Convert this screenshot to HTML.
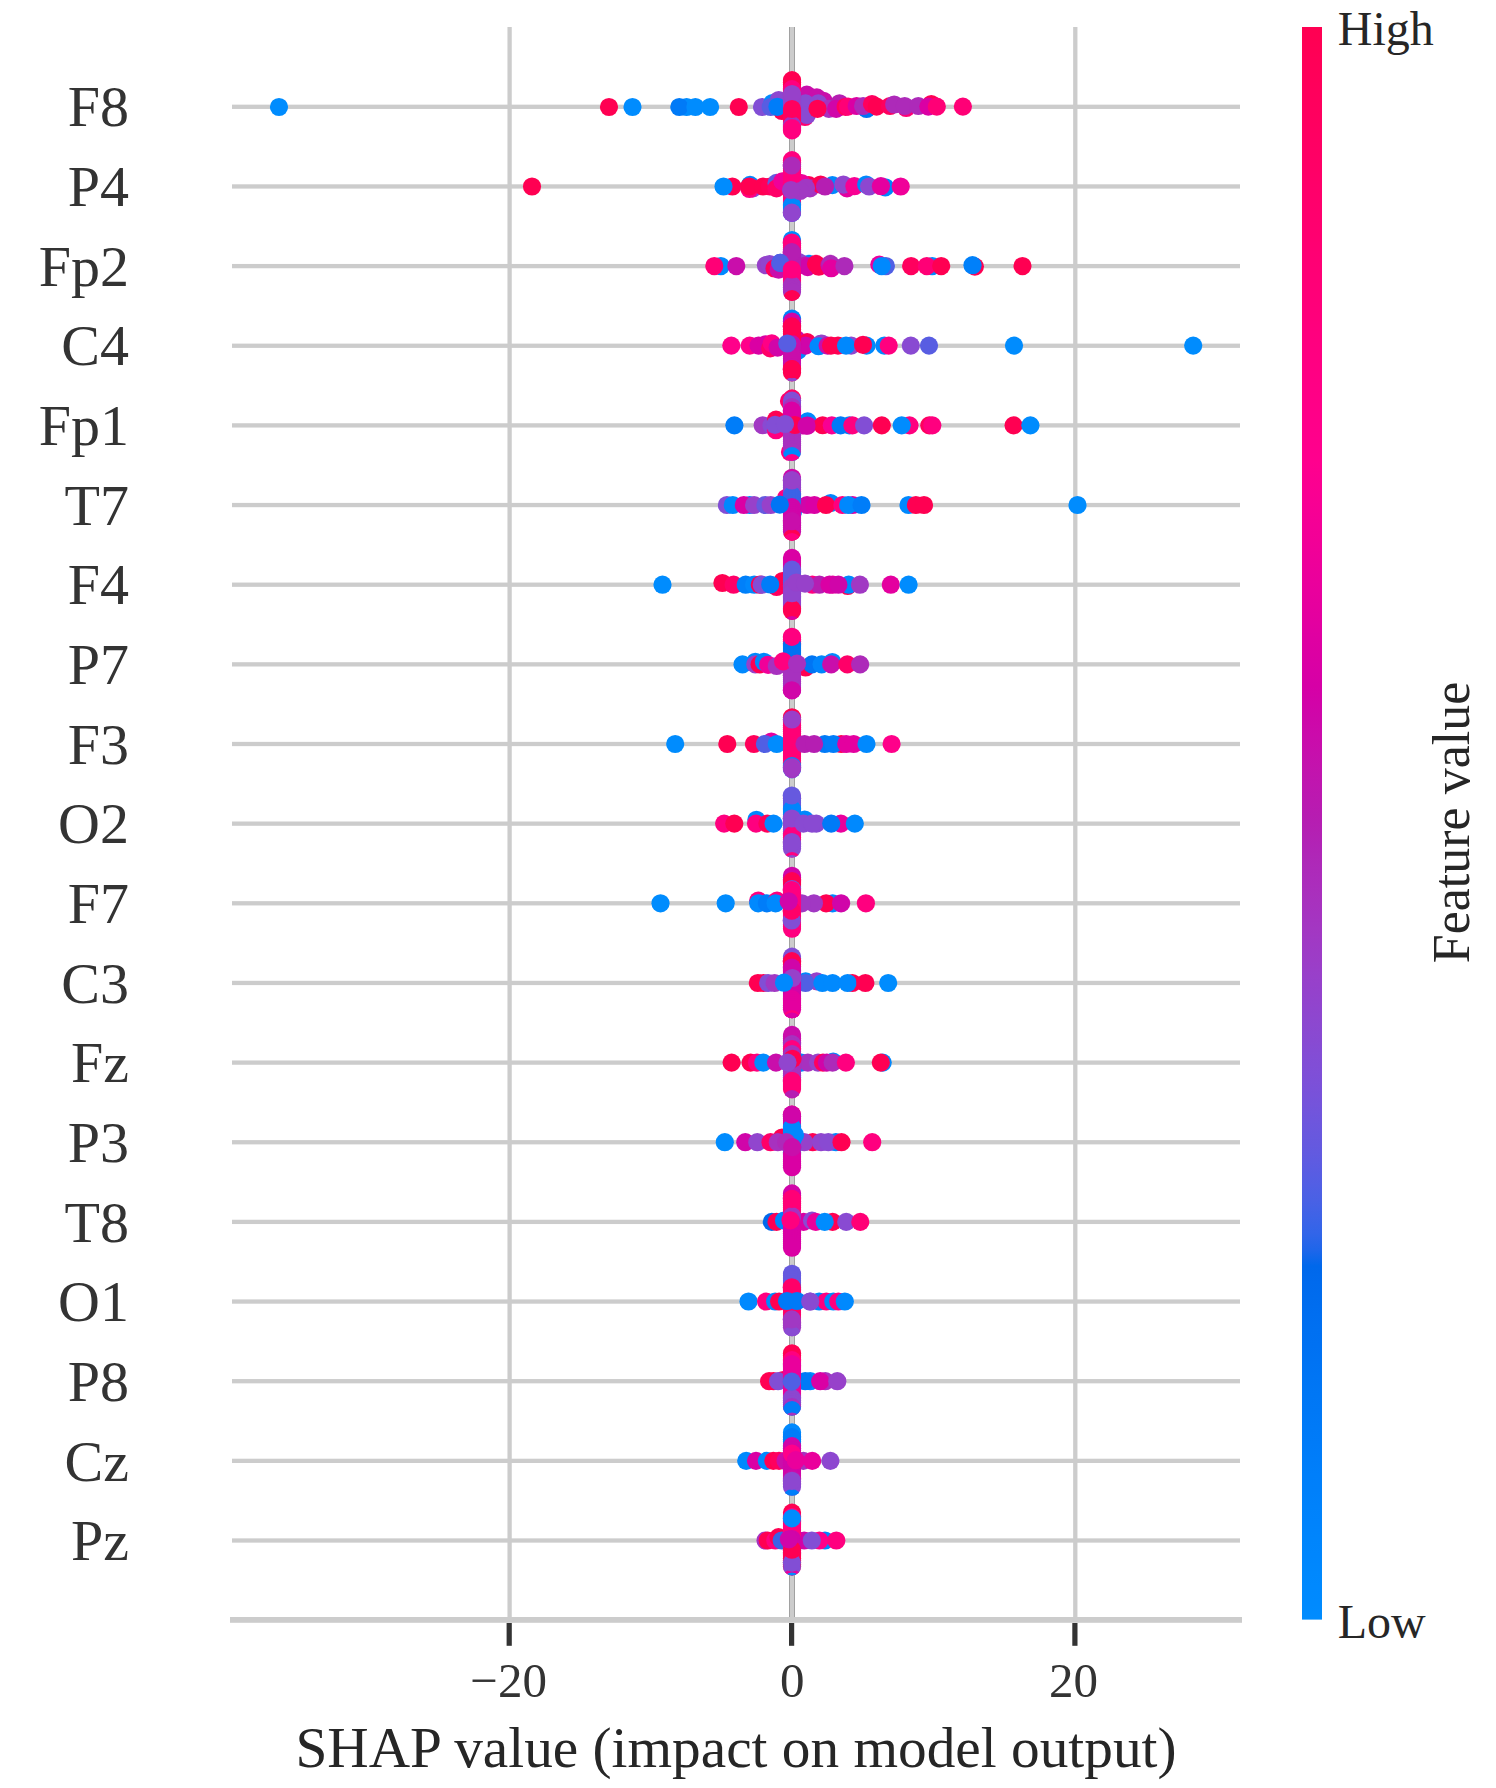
<!DOCTYPE html><html><head><meta charset="utf-8"><style>
html,body{margin:0;padding:0;background:#fff;}
svg{display:block;}
text{font-family:"Liberation Serif","Times New Roman",serif;}
.yl{font-size:58px;fill:#333333;}
.xt{font-size:49px;fill:#333333;}
.xl{font-size:57.3px;fill:#262626;}
.cbt{font-size:48px;fill:#262626;}
.cbl{font-size:52px;fill:#262626;}
</style></head><body><svg width="1496" height="1788" viewBox="0 0 1496 1788">
<defs><linearGradient id="cb" x1="0" y1="0" x2="0" y2="1"><stop offset="0.000" stop-color="#ff0052"/><stop offset="0.010" stop-color="#ff0054"/><stop offset="0.020" stop-color="#ff0057"/><stop offset="0.030" stop-color="#ff0059"/><stop offset="0.040" stop-color="#ff005c"/><stop offset="0.051" stop-color="#ff005e"/><stop offset="0.061" stop-color="#ff0060"/><stop offset="0.071" stop-color="#ff0063"/><stop offset="0.081" stop-color="#ff0065"/><stop offset="0.091" stop-color="#ff0067"/><stop offset="0.101" stop-color="#ff006a"/><stop offset="0.111" stop-color="#ff006c"/><stop offset="0.121" stop-color="#ff006e"/><stop offset="0.131" stop-color="#ff0070"/><stop offset="0.141" stop-color="#ff0073"/><stop offset="0.152" stop-color="#ff0075"/><stop offset="0.162" stop-color="#ff0077"/><stop offset="0.172" stop-color="#ff0079"/><stop offset="0.182" stop-color="#ff007b"/><stop offset="0.192" stop-color="#ff007e"/><stop offset="0.202" stop-color="#ff0080"/><stop offset="0.212" stop-color="#ff0082"/><stop offset="0.222" stop-color="#ff0084"/><stop offset="0.232" stop-color="#ff0086"/><stop offset="0.242" stop-color="#ff0088"/><stop offset="0.253" stop-color="#ff008a"/><stop offset="0.263" stop-color="#ff008c"/><stop offset="0.273" stop-color="#ff008e"/><stop offset="0.283" stop-color="#fc0090"/><stop offset="0.293" stop-color="#fa0092"/><stop offset="0.303" stop-color="#f70094"/><stop offset="0.313" stop-color="#f40096"/><stop offset="0.323" stop-color="#f20097"/><stop offset="0.333" stop-color="#ef0099"/><stop offset="0.343" stop-color="#ec009b"/><stop offset="0.354" stop-color="#e9009d"/><stop offset="0.364" stop-color="#e6009e"/><stop offset="0.374" stop-color="#e300a0"/><stop offset="0.384" stop-color="#df00a2"/><stop offset="0.394" stop-color="#dc00a3"/><stop offset="0.404" stop-color="#d900a5"/><stop offset="0.414" stop-color="#d600a6"/><stop offset="0.424" stop-color="#d203a8"/><stop offset="0.434" stop-color="#ce07a9"/><stop offset="0.444" stop-color="#cb0bab"/><stop offset="0.455" stop-color="#c70fac"/><stop offset="0.465" stop-color="#c313ad"/><stop offset="0.475" stop-color="#bf16af"/><stop offset="0.485" stop-color="#bb19b0"/><stop offset="0.495" stop-color="#b71cb1"/><stop offset="0.505" stop-color="#b420b3"/><stop offset="0.515" stop-color="#b124b6"/><stop offset="0.525" stop-color="#ae29b8"/><stop offset="0.535" stop-color="#ac2cbb"/><stop offset="0.545" stop-color="#a930bd"/><stop offset="0.556" stop-color="#a633c0"/><stop offset="0.566" stop-color="#a337c2"/><stop offset="0.576" stop-color="#9f3ac5"/><stop offset="0.586" stop-color="#9c3dc7"/><stop offset="0.596" stop-color="#9840ca"/><stop offset="0.606" stop-color="#9442cc"/><stop offset="0.616" stop-color="#9045ce"/><stop offset="0.626" stop-color="#8c48d0"/><stop offset="0.636" stop-color="#884ad2"/><stop offset="0.646" stop-color="#834dd5"/><stop offset="0.657" stop-color="#7f4fd7"/><stop offset="0.667" stop-color="#7a51d9"/><stop offset="0.677" stop-color="#7454db"/><stop offset="0.687" stop-color="#6e56dd"/><stop offset="0.697" stop-color="#6858de"/><stop offset="0.707" stop-color="#625ae0"/><stop offset="0.717" stop-color="#5a5ce2"/><stop offset="0.727" stop-color="#525fe4"/><stop offset="0.737" stop-color="#4961e5"/><stop offset="0.747" stop-color="#3e63e7"/><stop offset="0.758" stop-color="#3165e9"/><stop offset="0.768" stop-color="#1e66ea"/><stop offset="0.778" stop-color="#0068eb"/><stop offset="0.788" stop-color="#006aed"/><stop offset="0.798" stop-color="#006cee"/><stop offset="0.808" stop-color="#006ef0"/><stop offset="0.818" stop-color="#0070f1"/><stop offset="0.828" stop-color="#0071f2"/><stop offset="0.838" stop-color="#0073f3"/><stop offset="0.848" stop-color="#0075f4"/><stop offset="0.859" stop-color="#0077f5"/><stop offset="0.869" stop-color="#0078f6"/><stop offset="0.879" stop-color="#007af7"/><stop offset="0.889" stop-color="#007bf8"/><stop offset="0.899" stop-color="#007df9"/><stop offset="0.909" stop-color="#007ffa"/><stop offset="0.919" stop-color="#0080fa"/><stop offset="0.929" stop-color="#0082fb"/><stop offset="0.939" stop-color="#0083fc"/><stop offset="0.949" stop-color="#0085fc"/><stop offset="0.960" stop-color="#0086fd"/><stop offset="0.970" stop-color="#0088fd"/><stop offset="0.980" stop-color="#0089fe"/><stop offset="0.990" stop-color="#008afe"/><stop offset="1.000" stop-color="#008cfe"/></linearGradient></defs>
<defs><clipPath id="c0"><rect x="782.9" y="71" width="18.2" height="68.5" rx="9.1" ry="9.1"/></clipPath><clipPath id="c1"><rect x="782.9" y="151.1" width="18.2" height="70.8" rx="9.1" ry="9.1"/></clipPath><clipPath id="c2"><rect x="782.9" y="230.9" width="18.2" height="70.0" rx="9.1" ry="9.1"/></clipPath><clipPath id="c3"><rect x="782.9" y="309.5" width="18.2" height="72.0" rx="9.1" ry="9.1"/></clipPath><clipPath id="c4"><rect x="782.9" y="389.3" width="18.2" height="71.6" rx="9.1" ry="9.1"/></clipPath><clipPath id="c5"><rect x="782.9" y="468.7" width="18.2" height="72.0" rx="9.1" ry="9.1"/></clipPath><clipPath id="c6"><rect x="782.9" y="548.8" width="18.2" height="71.1" rx="9.1" ry="9.1"/></clipPath><clipPath id="c7"><rect x="782.9" y="628.3" width="18.2" height="70.6" rx="9.1" ry="9.1"/></clipPath><clipPath id="c8"><rect x="782.9" y="708.2" width="18.2" height="70.4" rx="9.1" ry="9.1"/></clipPath><clipPath id="c9"><rect x="782.9" y="787.8" width="18.2" height="69.8" rx="9.1" ry="9.1"/></clipPath><clipPath id="c10"><rect x="782.9" y="866.7" width="18.2" height="71.1" rx="9.1" ry="9.1"/></clipPath><clipPath id="c11"><rect x="782.9" y="947.6" width="18.2" height="70.7" rx="9.1" ry="9.1"/></clipPath><clipPath id="c12"><rect x="782.9" y="1025.8" width="18.2" height="72.4" rx="9.1" ry="9.1"/></clipPath><clipPath id="c13"><rect x="782.9" y="1105.6" width="18.2" height="70.7" rx="9.1" ry="9.1"/></clipPath><clipPath id="c14"><rect x="782.9" y="1184.3" width="18.2" height="72.5" rx="9.1" ry="9.1"/></clipPath><clipPath id="c15"><rect x="782.9" y="1264.7" width="18.2" height="71.6" rx="9.1" ry="9.1"/></clipPath><clipPath id="c16"><rect x="782.9" y="1344.2" width="18.2" height="71.4" rx="9.1" ry="9.1"/></clipPath><clipPath id="c17"><rect x="782.9" y="1423.3" width="18.2" height="72.5" rx="9.1" ry="9.1"/></clipPath><clipPath id="c18"><rect x="782.9" y="1503.6" width="18.2" height="71.8" rx="9.1" ry="9.1"/></clipPath></defs>
<rect x="789" y="27" width="6" height="1593" fill="#999999"/>
<rect x="507.45" y="27" width="4.3" height="1593" fill="#cccccc"/>
<rect x="789.85" y="27" width="4.3" height="1593" fill="#cccccc"/>
<rect x="1073.15" y="27" width="4.3" height="1593" fill="#cccccc"/>
<rect x="232" y="104.65" width="1008" height="4.3" fill="#cccccc"/>
<rect x="232" y="184.30" width="1008" height="4.3" fill="#cccccc"/>
<rect x="232" y="263.95" width="1008" height="4.3" fill="#cccccc"/>
<rect x="232" y="343.60" width="1008" height="4.3" fill="#cccccc"/>
<rect x="232" y="423.25" width="1008" height="4.3" fill="#cccccc"/>
<rect x="232" y="502.90" width="1008" height="4.3" fill="#cccccc"/>
<rect x="232" y="582.55" width="1008" height="4.3" fill="#cccccc"/>
<rect x="232" y="662.20" width="1008" height="4.3" fill="#cccccc"/>
<rect x="232" y="741.85" width="1008" height="4.3" fill="#cccccc"/>
<rect x="232" y="821.50" width="1008" height="4.3" fill="#cccccc"/>
<rect x="232" y="901.15" width="1008" height="4.3" fill="#cccccc"/>
<rect x="232" y="980.80" width="1008" height="4.3" fill="#cccccc"/>
<rect x="232" y="1060.45" width="1008" height="4.3" fill="#cccccc"/>
<rect x="232" y="1140.10" width="1008" height="4.3" fill="#cccccc"/>
<rect x="232" y="1219.75" width="1008" height="4.3" fill="#cccccc"/>
<rect x="232" y="1299.40" width="1008" height="4.3" fill="#cccccc"/>
<rect x="232" y="1379.05" width="1008" height="4.3" fill="#cccccc"/>
<rect x="232" y="1458.70" width="1008" height="4.3" fill="#cccccc"/>
<rect x="232" y="1538.35" width="1008" height="4.3" fill="#cccccc"/>
<rect x="230" y="1617" width="1012" height="5.8" fill="#cccccc"/>
<rect x="506.60" y="1623" width="5.2" height="22.8" fill="#333333"/>
<rect x="789.00" y="1623" width="5.2" height="22.8" fill="#333333"/>
<rect x="1072.30" y="1623" width="5.2" height="22.8" fill="#333333"/>
<circle cx="279" cy="107" r="9.1" fill="#008cfe"/>
<circle cx="609" cy="107" r="9.1" fill="#ff0052"/>
<circle cx="632.5" cy="107" r="9.1" fill="#008cfe"/>
<circle cx="686.6" cy="107" r="9.1" fill="#008cfe"/>
<circle cx="679.3" cy="107" r="9.1" fill="#007af7"/>
<circle cx="695.4" cy="107" r="9.1" fill="#008cfe"/>
<circle cx="710.1" cy="107" r="9.1" fill="#008cfe"/>
<circle cx="738.8" cy="107" r="9.1" fill="#ff0052"/>
<circle cx="762" cy="107" r="9.1" fill="#824ed5"/>
<circle cx="772.4" cy="103" r="9.1" fill="#008cfe"/>
<circle cx="778.7" cy="100" r="9.1" fill="#8d47d0"/>
<circle cx="770.7" cy="107" r="9.1" fill="#585de2"/>
<circle cx="782" cy="111" r="9.1" fill="#ff0052"/>
<circle cx="777.4" cy="106.8" r="9.1" fill="#007df9"/>
<circle cx="806.8" cy="94.7" r="9.1" fill="#c90eab"/>
<circle cx="816.8" cy="97.4" r="9.1" fill="#c90eab"/>
<circle cx="823.5" cy="100.8" r="9.1" fill="#c90eab"/>
<circle cx="805.5" cy="103.4" r="9.1" fill="#894ad2"/>
<circle cx="818.2" cy="103.4" r="9.1" fill="#8d47d0"/>
<circle cx="805" cy="117" r="9.1" fill="#ff006f"/>
<circle cx="807" cy="115" r="9.1" fill="#894ad2"/>
<circle cx="828.9" cy="108.8" r="9.1" fill="#a731bf"/>
<circle cx="839.5" cy="103.3" r="9.1" fill="#b51eb2"/>
<circle cx="836.2" cy="108.8" r="9.1" fill="#d005a9"/>
<circle cx="817.5" cy="108.8" r="9.1" fill="#ff0052"/>
<circle cx="845.6" cy="106.8" r="9.1" fill="#ff005e"/>
<circle cx="848" cy="106.6" r="9.1" fill="#ff0076"/>
<circle cx="856.6" cy="106" r="9.1" fill="#da00a4"/>
<circle cx="866.6" cy="109" r="9.1" fill="#0075f4"/>
<circle cx="863.1" cy="106" r="9.1" fill="#ad2ab9"/>
<circle cx="872" cy="104" r="9.1" fill="#ff005e"/>
<circle cx="876.6" cy="106.6" r="9.1" fill="#ff0052"/>
<circle cx="890" cy="106" r="9.1" fill="#ff005e"/>
<circle cx="894.2" cy="104.5" r="9.1" fill="#ad2ab9"/>
<circle cx="906.2" cy="108" r="9.1" fill="#ff0076"/>
<circle cx="904.7" cy="106" r="9.1" fill="#ad2ab9"/>
<circle cx="918.3" cy="106" r="9.1" fill="#ad2ab9"/>
<circle cx="931.3" cy="104" r="9.1" fill="#ff0052"/>
<circle cx="928.3" cy="106.6" r="9.1" fill="#da00a4"/>
<circle cx="936.8" cy="106.6" r="9.1" fill="#ff0076"/>
<circle cx="962.9" cy="106.6" r="9.1" fill="#ff0076"/>
<circle cx="792.0" cy="80.1" r="9.1" fill="#ff0052"/>
<circle cx="792.0" cy="82.3" r="9.1" fill="#ff0052"/>
<circle cx="792.0" cy="84.6" r="9.1" fill="#ff0052"/>
<circle cx="792.0" cy="86.8" r="9.1" fill="#ff0052"/>
<circle cx="792.0" cy="89.1" r="9.1" fill="#ff0052"/>
<circle cx="792.0" cy="89.1" r="9.1" fill="#ff007f"/>
<circle cx="792.0" cy="91.1" r="9.1" fill="#ff007f"/>
<circle cx="792.0" cy="93.1" r="9.1" fill="#ff007f"/>
<circle cx="792.0" cy="95.1" r="9.1" fill="#ff007f"/>
<circle cx="792.0" cy="95.1" r="9.1" fill="#9741ca"/>
<circle cx="792.0" cy="97.1" r="9.1" fill="#9741ca"/>
<circle cx="792.0" cy="99.1" r="9.1" fill="#9741ca"/>
<circle cx="792.0" cy="101.1" r="9.1" fill="#9741ca"/>
<circle cx="792.0" cy="103.1" r="9.1" fill="#9741ca"/>
<circle cx="792.0" cy="105.1" r="9.1" fill="#9741ca"/>
<circle cx="792.0" cy="107.1" r="9.1" fill="#9741ca"/>
<circle cx="792.0" cy="109.1" r="9.1" fill="#9741ca"/>
<circle cx="792.0" cy="111.1" r="9.1" fill="#9741ca"/>
<circle cx="792.0" cy="111.1" r="9.1" fill="#ff005e"/>
<circle cx="792.0" cy="113.1" r="9.1" fill="#ff005e"/>
<circle cx="792.0" cy="115.1" r="9.1" fill="#ff005e"/>
<circle cx="792.0" cy="117.1" r="9.1" fill="#ff005e"/>
<circle cx="792.0" cy="119.1" r="9.1" fill="#ff005e"/>
<circle cx="792.0" cy="121.1" r="9.1" fill="#ff005e"/>
<circle cx="792.0" cy="123.1" r="9.1" fill="#ff005e"/>
<circle cx="792.0" cy="125.1" r="9.1" fill="#ff005e"/>
<circle cx="792.0" cy="125.1" r="9.1" fill="#a731bf"/>
<circle cx="792.0" cy="126.6" r="9.1" fill="#a731bf"/>
<circle cx="792.0" cy="128.1" r="9.1" fill="#a731bf"/>
<circle cx="792.0" cy="128.1" r="9.1" fill="#ff007f"/>
<circle cx="792.0" cy="130.4" r="9.1" fill="#ff007f"/>
<circle cx="792" cy="94" r="9.1" fill="#9741ca"/>
<circle cx="792" cy="109" r="9.1" fill="#ff005e"/>
<circle cx="792" cy="129.5" r="9.1" fill="#ff007f"/>
<circle cx="532" cy="186.4775" r="9.1" fill="#ff0052"/>
<circle cx="732.4" cy="186.4775" r="9.1" fill="#ff0052"/>
<circle cx="723.5" cy="186.4775" r="9.1" fill="#008cfe"/>
<circle cx="750" cy="184.8275" r="9.1" fill="#0085fc"/>
<circle cx="753" cy="188.4025" r="9.1" fill="#8d47d0"/>
<circle cx="749.5" cy="188.9525" r="9.1" fill="#ff007f"/>
<circle cx="749.3" cy="186.4775" r="9.1" fill="#ff0052"/>
<circle cx="763" cy="186.4775" r="9.1" fill="#ff0052"/>
<circle cx="770" cy="186.4775" r="9.1" fill="#ff0059"/>
<circle cx="776.5" cy="182.9025" r="9.1" fill="#6659df"/>
<circle cx="776.5" cy="188.4025" r="9.1" fill="#ff0068"/>
<circle cx="782.4" cy="181.3" r="9.1" fill="#f00099"/>
<circle cx="795.6" cy="181" r="9.1" fill="#0085fc"/>
<circle cx="808.8" cy="185.1025" r="9.1" fill="#ff0052"/>
<circle cx="801.5" cy="183" r="9.1" fill="#f00099"/>
<circle cx="810" cy="188.4025" r="9.1" fill="#a731bf"/>
<circle cx="820.6" cy="184.55249999999998" r="9.1" fill="#ff0052"/>
<circle cx="832.4" cy="185.1025" r="9.1" fill="#0088fd"/>
<circle cx="825" cy="186.4775" r="9.1" fill="#b51eb2"/>
<circle cx="847" cy="188.4025" r="9.1" fill="#e4009f"/>
<circle cx="843.4" cy="184.55249999999998" r="9.1" fill="#9145ce"/>
<circle cx="854.4" cy="186.2025" r="9.1" fill="#f80093"/>
<circle cx="866.2" cy="184.55249999999998" r="9.1" fill="#0088fd"/>
<circle cx="869.1" cy="186.4775" r="9.1" fill="#8d47d0"/>
<circle cx="885.3" cy="187.3025" r="9.1" fill="#0085fc"/>
<circle cx="880.9" cy="186.2025" r="9.1" fill="#e4009f"/>
<circle cx="900.7" cy="186.4775" r="9.1" fill="#f00099"/>
<circle cx="792.0" cy="160.2" r="9.1" fill="#ff007f"/>
<circle cx="792.0" cy="162.2" r="9.1" fill="#ff007f"/>
<circle cx="792.0" cy="164.3" r="9.1" fill="#ff007f"/>
<circle cx="792.0" cy="166.3" r="9.1" fill="#ff007f"/>
<circle cx="792.0" cy="168.4" r="9.1" fill="#ff007f"/>
<circle cx="792.0" cy="170.4" r="9.1" fill="#ff007f"/>
<circle cx="792.0" cy="172.4" r="9.1" fill="#ff007f"/>
<circle cx="792.0" cy="174.5" r="9.1" fill="#ff007f"/>
<circle cx="792.0" cy="176.5" r="9.1" fill="#ff007f"/>
<circle cx="792.0" cy="178.6" r="9.1" fill="#ff007f"/>
<circle cx="792.0" cy="180.6" r="9.1" fill="#ff007f"/>
<circle cx="792.0" cy="182.6" r="9.1" fill="#ff007f"/>
<circle cx="792.0" cy="184.7" r="9.1" fill="#ff007f"/>
<circle cx="792.0" cy="186.7" r="9.1" fill="#ff007f"/>
<circle cx="792.0" cy="188.8" r="9.1" fill="#ff007f"/>
<circle cx="792.0" cy="190.8" r="9.1" fill="#ff007f"/>
<circle cx="792.0" cy="192.9" r="9.1" fill="#ff007f"/>
<circle cx="792.0" cy="194.9" r="9.1" fill="#ff007f"/>
<circle cx="792.0" cy="196.9" r="9.1" fill="#ff007f"/>
<circle cx="792.0" cy="199.0" r="9.1" fill="#ff007f"/>
<circle cx="792.0" cy="201.0" r="9.1" fill="#ff007f"/>
<circle cx="792.0" cy="203.1" r="9.1" fill="#ff007f"/>
<circle cx="792.0" cy="205.1" r="9.1" fill="#ff007f"/>
<circle cx="792.0" cy="205.1" r="9.1" fill="#0088fd"/>
<circle cx="792.0" cy="207.0" r="9.1" fill="#0088fd"/>
<circle cx="792.0" cy="208.9" r="9.1" fill="#0088fd"/>
<circle cx="792.0" cy="210.9" r="9.1" fill="#0088fd"/>
<circle cx="792.0" cy="212.8" r="9.1" fill="#0088fd"/>
<circle cx="792.0" cy="215.1" r="9.1" fill="#9145ce" clip-path="url(#c1)"/>
<circle cx="791.8" cy="165.5" r="9.1" fill="#ad2ab9"/>
<circle cx="791.8" cy="212.6" r="9.1" fill="#9145ce"/>
<circle cx="806" cy="187.8525" r="9.1" fill="#a138c3"/>
<circle cx="800" cy="191" r="9.1" fill="#a138c3"/>
<circle cx="791" cy="190" r="9.1" fill="#a138c3"/>
<circle cx="720.9" cy="266.045" r="9.1" fill="#0089fe"/>
<circle cx="714.3" cy="266.045" r="9.1" fill="#ff0076"/>
<circle cx="736.3" cy="266.045" r="9.1" fill="#c90eab"/>
<circle cx="765.9" cy="265.22" r="9.1" fill="#9741ca"/>
<circle cx="769.6" cy="264.12" r="9.1" fill="#9145ce"/>
<circle cx="774.5" cy="268.465" r="9.1" fill="#ff005e"/>
<circle cx="778.7" cy="269.62" r="9.1" fill="#c90eab"/>
<circle cx="780.3" cy="262.855" r="9.1" fill="#505fe4"/>
<circle cx="809" cy="263.845" r="9.1" fill="#0085fc"/>
<circle cx="795.9" cy="262" r="9.1" fill="#0085fc"/>
<circle cx="798.8" cy="262" r="9.1" fill="#9145ce"/>
<circle cx="805.5" cy="265.495" r="9.1" fill="#c115ae"/>
<circle cx="807.6" cy="267.145" r="9.1" fill="#d005a9"/>
<circle cx="816" cy="263.845" r="9.1" fill="#ff0052"/>
<circle cx="818.8" cy="266.705" r="9.1" fill="#ff0052"/>
<circle cx="829.5" cy="265.22" r="9.1" fill="#c90eab"/>
<circle cx="830.4" cy="263.845" r="9.1" fill="#ad2ab9"/>
<circle cx="831.2" cy="268.245" r="9.1" fill="#e4009f"/>
<circle cx="844.4" cy="266.045" r="9.1" fill="#ad2ab9"/>
<circle cx="879.3" cy="264.56" r="9.1" fill="#ea009c"/>
<circle cx="885.9" cy="266.045" r="9.1" fill="#505fe4"/>
<circle cx="881.7" cy="266.045" r="9.1" fill="#0089fe"/>
<circle cx="911.1" cy="266.045" r="9.1" fill="#ff005e"/>
<circle cx="932.2" cy="266.045" r="9.1" fill="#0089fe"/>
<circle cx="926.8" cy="266.045" r="9.1" fill="#ff0076"/>
<circle cx="941.2" cy="266.045" r="9.1" fill="#ff0052"/>
<circle cx="974.9" cy="266.595" r="9.1" fill="#ff0052"/>
<circle cx="972.5" cy="265.22" r="9.1" fill="#0080fa"/>
<circle cx="1022.5" cy="266.045" r="9.1" fill="#ff0052"/>
<circle cx="792.0" cy="240.0" r="9.1" fill="#0089fe"/>
<circle cx="792.0" cy="241.8" r="9.1" fill="#0089fe"/>
<circle cx="792.0" cy="243.6" r="9.1" fill="#0089fe"/>
<circle cx="792.0" cy="243.6" r="9.1" fill="#ff007f"/>
<circle cx="792.0" cy="245.5" r="9.1" fill="#ff007f"/>
<circle cx="792.0" cy="247.4" r="9.1" fill="#ff007f"/>
<circle cx="792.0" cy="249.3" r="9.1" fill="#ff007f"/>
<circle cx="792.0" cy="251.2" r="9.1" fill="#ff007f"/>
<circle cx="792.0" cy="253.1" r="9.1" fill="#ff007f"/>
<circle cx="792.0" cy="253.1" r="9.1" fill="#b51eb2"/>
<circle cx="792.0" cy="255.1" r="9.1" fill="#b51eb2"/>
<circle cx="792.0" cy="257.1" r="9.1" fill="#b51eb2"/>
<circle cx="792.0" cy="259.1" r="9.1" fill="#b51eb2"/>
<circle cx="792.0" cy="261.1" r="9.1" fill="#b51eb2"/>
<circle cx="792.0" cy="263.1" r="9.1" fill="#b51eb2"/>
<circle cx="792.0" cy="265.1" r="9.1" fill="#b51eb2"/>
<circle cx="792.0" cy="267.1" r="9.1" fill="#b51eb2"/>
<circle cx="792.0" cy="269.1" r="9.1" fill="#b51eb2"/>
<circle cx="792.0" cy="271.1" r="9.1" fill="#b51eb2"/>
<circle cx="792.0" cy="271.1" r="9.1" fill="#ff007f"/>
<circle cx="792.0" cy="273.1" r="9.1" fill="#ff007f"/>
<circle cx="792.0" cy="275.1" r="9.1" fill="#ff007f"/>
<circle cx="792.0" cy="277.1" r="9.1" fill="#ff007f"/>
<circle cx="792.0" cy="279.1" r="9.1" fill="#ff007f"/>
<circle cx="792.0" cy="281.1" r="9.1" fill="#ff007f"/>
<circle cx="792.0" cy="283.1" r="9.1" fill="#ff007f"/>
<circle cx="792.0" cy="285.1" r="9.1" fill="#ff007f"/>
<circle cx="792.0" cy="285.1" r="9.1" fill="#a731bf"/>
<circle cx="792.0" cy="287.3" r="9.1" fill="#a731bf"/>
<circle cx="792.0" cy="289.6" r="9.1" fill="#a731bf"/>
<circle cx="792.0" cy="291.8" r="9.1" fill="#a731bf"/>
<circle cx="792.0" cy="299.1" r="9.1" fill="#ff0052" clip-path="url(#c2)"/>
<circle cx="791.8" cy="242.5" r="9.1" fill="#ff007f"/>
<circle cx="791.8" cy="252.2" r="9.1" fill="#b51eb2"/>
<circle cx="780.3" cy="262.855" r="9.1" fill="#505fe4"/>
<circle cx="791.8" cy="269.5" r="9.1" fill="#ff007f"/>
<circle cx="731.3" cy="345.6125" r="9.1" fill="#ff008a"/>
<circle cx="749.7" cy="345.6125" r="9.1" fill="#ff008a"/>
<circle cx="758.5" cy="345.6125" r="9.1" fill="#da00a4"/>
<circle cx="765.9" cy="344.2375" r="9.1" fill="#da00a4"/>
<circle cx="770.2" cy="348.3625" r="9.1" fill="#ff0068"/>
<circle cx="771.8" cy="343.35749999999996" r="9.1" fill="#ff0086"/>
<circle cx="777.6" cy="347.5375" r="9.1" fill="#d005a9"/>
<circle cx="796.4" cy="339.2" r="9.1" fill="#c90eab"/>
<circle cx="798.2" cy="350.6" r="9.1" fill="#0088fd"/>
<circle cx="807.1" cy="342.1475" r="9.1" fill="#ff0052"/>
<circle cx="805.5" cy="345.6675" r="9.1" fill="#d005a9"/>
<circle cx="821.8" cy="343.5775" r="9.1" fill="#9145ce"/>
<circle cx="820.4" cy="343.90749999999997" r="9.1" fill="#9741ca"/>
<circle cx="818.6" cy="346.2725" r="9.1" fill="#0089fe"/>
<circle cx="827.6" cy="345.6125" r="9.1" fill="#c90eab"/>
<circle cx="831" cy="345.6125" r="9.1" fill="#ff0052"/>
<circle cx="838" cy="345.6125" r="9.1" fill="#ff0052"/>
<circle cx="851.2" cy="345.6125" r="9.1" fill="#8d47d0"/>
<circle cx="846" cy="345.6125" r="9.1" fill="#0088fd"/>
<circle cx="866.6" cy="345.6125" r="9.1" fill="#0089fe"/>
<circle cx="863" cy="344.7875" r="9.1" fill="#ff0052"/>
<circle cx="884.3" cy="345.6125" r="9.1" fill="#0089fe"/>
<circle cx="888.7" cy="345.6125" r="9.1" fill="#ff007f"/>
<circle cx="910.8" cy="345.6125" r="9.1" fill="#894ad2"/>
<circle cx="929" cy="345.6125" r="9.1" fill="#585de2"/>
<circle cx="1014" cy="345.6125" r="9.1" fill="#008cfe"/>
<circle cx="1193.2" cy="345.6125" r="9.1" fill="#008cfe"/>
<circle cx="792.0" cy="318.6" r="9.1" fill="#0080fa"/>
<circle cx="792.0" cy="320.1" r="9.1" fill="#0080fa"/>
<circle cx="792.0" cy="321.6" r="9.1" fill="#0080fa"/>
<circle cx="792.0" cy="321.6" r="9.1" fill="#d005a9"/>
<circle cx="792.0" cy="323.4" r="9.1" fill="#d005a9"/>
<circle cx="792.0" cy="325.3" r="9.1" fill="#d005a9"/>
<circle cx="792.0" cy="327.1" r="9.1" fill="#d005a9"/>
<circle cx="792.0" cy="327.1" r="9.1" fill="#ff0052"/>
<circle cx="792.0" cy="329.2" r="9.1" fill="#ff0052"/>
<circle cx="792.0" cy="331.4" r="9.1" fill="#ff0052"/>
<circle cx="792.0" cy="333.5" r="9.1" fill="#ff0052"/>
<circle cx="792.0" cy="335.6" r="9.1" fill="#ff0052"/>
<circle cx="792.0" cy="337.7" r="9.1" fill="#ff0052"/>
<circle cx="792.0" cy="339.9" r="9.1" fill="#ff0052"/>
<circle cx="792.0" cy="342.0" r="9.1" fill="#ff0052"/>
<circle cx="792.0" cy="344.1" r="9.1" fill="#ff0052"/>
<circle cx="792.0" cy="344.1" r="9.1" fill="#c90eab"/>
<circle cx="792.0" cy="346.2" r="9.1" fill="#c90eab"/>
<circle cx="792.0" cy="348.3" r="9.1" fill="#c90eab"/>
<circle cx="792.0" cy="350.4" r="9.1" fill="#c90eab"/>
<circle cx="792.0" cy="352.4" r="9.1" fill="#c90eab"/>
<circle cx="792.0" cy="354.5" r="9.1" fill="#c90eab"/>
<circle cx="792.0" cy="356.6" r="9.1" fill="#c90eab"/>
<circle cx="792.0" cy="358.7" r="9.1" fill="#c90eab"/>
<circle cx="792.0" cy="360.8" r="9.1" fill="#c90eab"/>
<circle cx="792.0" cy="362.9" r="9.1" fill="#c90eab"/>
<circle cx="792.0" cy="364.9" r="9.1" fill="#c90eab"/>
<circle cx="792.0" cy="367.0" r="9.1" fill="#c90eab"/>
<circle cx="792.0" cy="369.1" r="9.1" fill="#c90eab"/>
<circle cx="792.0" cy="369.1" r="9.1" fill="#ff0052"/>
<circle cx="792.0" cy="370.8" r="9.1" fill="#ff0052"/>
<circle cx="792.0" cy="372.4" r="9.1" fill="#ff0052"/>
<circle cx="792.0" cy="386.6" r="9.1" fill="#9145ce" clip-path="url(#c3)"/>
<circle cx="791.8" cy="326.4" r="9.1" fill="#ff0052"/>
<circle cx="791.8" cy="369.2" r="9.1" fill="#ff0052"/>
<circle cx="787.3" cy="343.5" r="9.1" fill="#585de2"/>
<circle cx="734.4" cy="425.345" r="9.1" fill="#007df9"/>
<circle cx="762.7" cy="425.235" r="9.1" fill="#a138c3"/>
<circle cx="771.5" cy="425.345" r="9.1" fill="#894ad2"/>
<circle cx="776" cy="419.68" r="9.1" fill="#ff0052"/>
<circle cx="776" cy="430.24" r="9.1" fill="#ff007f"/>
<circle cx="790" cy="452" r="9.1" fill="#ff007f"/>
<circle cx="789" cy="401" r="9.1" fill="#ff006f"/>
<circle cx="802.4" cy="425.345" r="9.1" fill="#d005a9"/>
<circle cx="807.6" cy="421.44" r="9.1" fill="#0088fd"/>
<circle cx="807.6" cy="425.51000000000005" r="9.1" fill="#da00a4"/>
<circle cx="822.6" cy="425.235" r="9.1" fill="#ff0052"/>
<circle cx="831.8" cy="425.345" r="9.1" fill="#f80093"/>
<circle cx="849.4" cy="425.345" r="9.1" fill="#0085fc"/>
<circle cx="840.6" cy="425.345" r="9.1" fill="#007af7"/>
<circle cx="852.4" cy="425.345" r="9.1" fill="#ff007f"/>
<circle cx="864.1" cy="425.345" r="9.1" fill="#824ed5"/>
<circle cx="881.8" cy="425.345" r="9.1" fill="#ff0052"/>
<circle cx="909.5" cy="425.345" r="9.1" fill="#ff007f"/>
<circle cx="901.7" cy="425.345" r="9.1" fill="#008cfe"/>
<circle cx="929.3" cy="425.345" r="9.1" fill="#ff005e"/>
<circle cx="932.3" cy="425.345" r="9.1" fill="#ff007f"/>
<circle cx="1013.6" cy="425.345" r="9.1" fill="#ff0052"/>
<circle cx="1030.4" cy="425.345" r="9.1" fill="#008cfe"/>
<circle cx="792.0" cy="398.4" r="9.1" fill="#ff0068"/>
<circle cx="792.0" cy="400.6" r="9.1" fill="#ff0068"/>
<circle cx="792.0" cy="400.6" r="9.1" fill="#824ed5"/>
<circle cx="792.0" cy="402.8" r="9.1" fill="#824ed5"/>
<circle cx="792.0" cy="404.9" r="9.1" fill="#824ed5"/>
<circle cx="792.0" cy="407.1" r="9.1" fill="#824ed5"/>
<circle cx="792.0" cy="407.1" r="9.1" fill="#a731bf"/>
<circle cx="792.0" cy="409.1" r="9.1" fill="#a731bf"/>
<circle cx="792.0" cy="411.1" r="9.1" fill="#a731bf"/>
<circle cx="792.0" cy="413.1" r="9.1" fill="#a731bf"/>
<circle cx="792.0" cy="413.1" r="9.1" fill="#da00a4"/>
<circle cx="792.0" cy="415.1" r="9.1" fill="#da00a4"/>
<circle cx="792.0" cy="417.1" r="9.1" fill="#da00a4"/>
<circle cx="792.0" cy="419.1" r="9.1" fill="#da00a4"/>
<circle cx="792.0" cy="421.1" r="9.1" fill="#da00a4"/>
<circle cx="792.0" cy="423.1" r="9.1" fill="#da00a4"/>
<circle cx="792.0" cy="425.1" r="9.1" fill="#da00a4"/>
<circle cx="792.0" cy="427.1" r="9.1" fill="#da00a4"/>
<circle cx="792.0" cy="429.1" r="9.1" fill="#da00a4"/>
<circle cx="792.0" cy="429.1" r="9.1" fill="#a731bf"/>
<circle cx="792.0" cy="431.2" r="9.1" fill="#a731bf"/>
<circle cx="792.0" cy="433.2" r="9.1" fill="#a731bf"/>
<circle cx="792.0" cy="435.3" r="9.1" fill="#a731bf"/>
<circle cx="792.0" cy="437.4" r="9.1" fill="#a731bf"/>
<circle cx="792.0" cy="439.4" r="9.1" fill="#a731bf"/>
<circle cx="792.0" cy="441.5" r="9.1" fill="#a731bf"/>
<circle cx="792.0" cy="443.5" r="9.1" fill="#a731bf"/>
<circle cx="792.0" cy="445.6" r="9.1" fill="#a731bf"/>
<circle cx="792.0" cy="447.7" r="9.1" fill="#a731bf"/>
<circle cx="792.0" cy="449.7" r="9.1" fill="#a731bf"/>
<circle cx="792.0" cy="451.8" r="9.1" fill="#a731bf"/>
<circle cx="792.0" cy="456.1" r="9.1" fill="#0089fe" clip-path="url(#c4)"/>
<circle cx="792.0" cy="463.1" r="9.1" fill="#ff008a" clip-path="url(#c4)"/>
<circle cx="791.8" cy="410.7" r="9.1" fill="#da00a4"/>
<circle cx="794.8" cy="425" r="9.1" fill="#ff0052"/>
<circle cx="806.5" cy="425.73" r="9.1" fill="#d005a9"/>
<circle cx="775" cy="424.90500000000003" r="9.1" fill="#824ed5"/>
<circle cx="785" cy="424" r="9.1" fill="#824ed5"/>
<circle cx="726.9" cy="505" r="9.1" fill="#824ed5"/>
<circle cx="732.8" cy="505" r="9.1" fill="#0089fe"/>
<circle cx="749.7" cy="505" r="9.1" fill="#0088fd"/>
<circle cx="743.8" cy="505" r="9.1" fill="#da00a4"/>
<circle cx="754.1" cy="505" r="9.1" fill="#9741ca"/>
<circle cx="765.4" cy="505" r="9.1" fill="#6659df"/>
<circle cx="770.7" cy="505" r="9.1" fill="#9741ca"/>
<circle cx="786" cy="498" r="9.1" fill="#ff007f"/>
<circle cx="793" cy="512" r="9.1" fill="#0088fd"/>
<circle cx="807" cy="505" r="9.1" fill="#d005a9"/>
<circle cx="814.4" cy="505" r="9.1" fill="#da00a4"/>
<circle cx="830.6" cy="503" r="9.1" fill="#0085fc"/>
<circle cx="826" cy="505" r="9.1" fill="#ff0052"/>
<circle cx="852.6" cy="505" r="9.1" fill="#da00a4"/>
<circle cx="842.4" cy="505" r="9.1" fill="#ff007f"/>
<circle cx="848.2" cy="505" r="9.1" fill="#0088fd"/>
<circle cx="861.5" cy="505" r="9.1" fill="#007df9"/>
<circle cx="908.5" cy="505" r="9.1" fill="#0089fe"/>
<circle cx="915.9" cy="505" r="9.1" fill="#ff0052"/>
<circle cx="924" cy="505" r="9.1" fill="#ff0052"/>
<circle cx="1077.5" cy="505" r="9.1" fill="#008cfe"/>
<circle cx="792.0" cy="477.8" r="9.1" fill="#d005a9"/>
<circle cx="792.0" cy="480.1" r="9.1" fill="#d005a9"/>
<circle cx="792.0" cy="480.1" r="9.1" fill="#9741ca"/>
<circle cx="792.0" cy="482.0" r="9.1" fill="#9741ca"/>
<circle cx="792.0" cy="483.9" r="9.1" fill="#9741ca"/>
<circle cx="792.0" cy="485.7" r="9.1" fill="#9741ca"/>
<circle cx="792.0" cy="487.6" r="9.1" fill="#9741ca"/>
<circle cx="792.0" cy="489.5" r="9.1" fill="#9741ca"/>
<circle cx="792.0" cy="491.4" r="9.1" fill="#9741ca"/>
<circle cx="792.0" cy="493.2" r="9.1" fill="#9741ca"/>
<circle cx="792.0" cy="495.1" r="9.1" fill="#9741ca"/>
<circle cx="792.0" cy="495.1" r="9.1" fill="#3b63e7"/>
<circle cx="792.0" cy="497.1" r="9.1" fill="#3b63e7"/>
<circle cx="792.0" cy="499.1" r="9.1" fill="#3b63e7"/>
<circle cx="792.0" cy="501.1" r="9.1" fill="#3b63e7"/>
<circle cx="792.0" cy="503.1" r="9.1" fill="#3b63e7"/>
<circle cx="792.0" cy="505.1" r="9.1" fill="#3b63e7"/>
<circle cx="792.0" cy="507.1" r="9.1" fill="#3b63e7"/>
<circle cx="792.0" cy="507.1" r="9.1" fill="#d005a9"/>
<circle cx="792.0" cy="509.1" r="9.1" fill="#d005a9"/>
<circle cx="792.0" cy="511.1" r="9.1" fill="#d005a9"/>
<circle cx="792.0" cy="513.1" r="9.1" fill="#d005a9"/>
<circle cx="792.0" cy="515.1" r="9.1" fill="#d005a9"/>
<circle cx="792.0" cy="517.1" r="9.1" fill="#d005a9"/>
<circle cx="792.0" cy="519.1" r="9.1" fill="#d005a9"/>
<circle cx="792.0" cy="521.1" r="9.1" fill="#d005a9"/>
<circle cx="792.0" cy="523.1" r="9.1" fill="#d005a9"/>
<circle cx="792.0" cy="523.1" r="9.1" fill="#c90eab"/>
<circle cx="792.0" cy="525.2" r="9.1" fill="#c90eab"/>
<circle cx="792.0" cy="527.4" r="9.1" fill="#c90eab"/>
<circle cx="792.0" cy="529.5" r="9.1" fill="#c90eab"/>
<circle cx="792.0" cy="531.6" r="9.1" fill="#c90eab"/>
<circle cx="792.0" cy="538.1" r="9.1" fill="#ff0052" clip-path="url(#c5)"/>
<circle cx="792.0" cy="542.1" r="9.1" fill="#ff007f" clip-path="url(#c5)"/>
<circle cx="791.9" cy="480.5" r="9.1" fill="#9741ca"/>
<circle cx="791.9" cy="521.1" r="9.1" fill="#c90eab"/>
<circle cx="779.8" cy="504.6" r="9.1" fill="#0075f4"/>
<circle cx="662.5" cy="584.7" r="9.1" fill="#008cfe"/>
<circle cx="722.4" cy="583" r="9.1" fill="#ff0052"/>
<circle cx="733.6" cy="584.7" r="9.1" fill="#ff0068"/>
<circle cx="745.7" cy="584.7" r="9.1" fill="#0080fa"/>
<circle cx="754.2" cy="584.7" r="9.1" fill="#0088fd"/>
<circle cx="759.8" cy="584.7" r="9.1" fill="#ff0052"/>
<circle cx="761.7" cy="584.7" r="9.1" fill="#824ed5"/>
<circle cx="776.6" cy="587" r="9.1" fill="#ff005e"/>
<circle cx="782.5" cy="581" r="9.1" fill="#ff0052"/>
<circle cx="770.2" cy="584.5" r="9.1" fill="#007df9"/>
<circle cx="812.4" cy="584.7" r="9.1" fill="#ff007f"/>
<circle cx="819.4" cy="584.7" r="9.1" fill="#b51eb2"/>
<circle cx="832.8" cy="584.7" r="9.1" fill="#ea009c"/>
<circle cx="829.5" cy="584.7" r="9.1" fill="#da00a4"/>
<circle cx="847.7" cy="586" r="9.1" fill="#ff0052"/>
<circle cx="848.7" cy="584.7" r="9.1" fill="#0088fd"/>
<circle cx="838.4" cy="584.7" r="9.1" fill="#d005a9"/>
<circle cx="859.9" cy="584.7" r="9.1" fill="#a138c3"/>
<circle cx="890.8" cy="584.7" r="9.1" fill="#e4009f"/>
<circle cx="908.6" cy="584.7" r="9.1" fill="#008cfe"/>
<circle cx="792.0" cy="557.9" r="9.1" fill="#da00a4"/>
<circle cx="792.0" cy="559.9" r="9.1" fill="#da00a4"/>
<circle cx="792.0" cy="562.0" r="9.1" fill="#da00a4"/>
<circle cx="792.0" cy="564.0" r="9.1" fill="#da00a4"/>
<circle cx="792.0" cy="566.0" r="9.1" fill="#da00a4"/>
<circle cx="792.0" cy="568.0" r="9.1" fill="#da00a4"/>
<circle cx="792.0" cy="570.1" r="9.1" fill="#da00a4"/>
<circle cx="792.0" cy="572.1" r="9.1" fill="#da00a4"/>
<circle cx="792.0" cy="572.1" r="9.1" fill="#6659df"/>
<circle cx="792.0" cy="574.0" r="9.1" fill="#6659df"/>
<circle cx="792.0" cy="575.9" r="9.1" fill="#6659df"/>
<circle cx="792.0" cy="577.7" r="9.1" fill="#6659df"/>
<circle cx="792.0" cy="579.6" r="9.1" fill="#6659df"/>
<circle cx="792.0" cy="581.5" r="9.1" fill="#6659df"/>
<circle cx="792.0" cy="583.4" r="9.1" fill="#6659df"/>
<circle cx="792.0" cy="585.2" r="9.1" fill="#6659df"/>
<circle cx="792.0" cy="587.1" r="9.1" fill="#6659df"/>
<circle cx="792.0" cy="587.1" r="9.1" fill="#9741ca"/>
<circle cx="792.0" cy="589.1" r="9.1" fill="#9741ca"/>
<circle cx="792.0" cy="591.1" r="9.1" fill="#9741ca"/>
<circle cx="792.0" cy="593.1" r="9.1" fill="#9741ca"/>
<circle cx="792.0" cy="595.1" r="9.1" fill="#9741ca"/>
<circle cx="792.0" cy="597.1" r="9.1" fill="#9741ca"/>
<circle cx="792.0" cy="597.1" r="9.1" fill="#9145ce"/>
<circle cx="792.0" cy="599.1" r="9.1" fill="#9145ce"/>
<circle cx="792.0" cy="601.1" r="9.1" fill="#9145ce"/>
<circle cx="792.0" cy="603.1" r="9.1" fill="#9145ce"/>
<circle cx="792.0" cy="605.1" r="9.1" fill="#9145ce"/>
<circle cx="792.0" cy="607.1" r="9.1" fill="#9145ce"/>
<circle cx="792.0" cy="609.1" r="9.1" fill="#9145ce"/>
<circle cx="792.0" cy="609.1" r="9.1" fill="#ff0052"/>
<circle cx="792.0" cy="610.8" r="9.1" fill="#ff0052"/>
<circle cx="792.0" cy="625.1" r="9.1" fill="#da00a4" clip-path="url(#c6)"/>
<circle cx="792" cy="569.7" r="9.1" fill="#6659df"/>
<circle cx="792" cy="593.2" r="9.1" fill="#9145ce"/>
<circle cx="796.4" cy="582.5" r="9.1" fill="#9741ca"/>
<circle cx="805" cy="583.6" r="9.1" fill="#9741ca"/>
<circle cx="742.5" cy="664.4" r="9.1" fill="#0089fe"/>
<circle cx="755.3" cy="661.8" r="9.1" fill="#0088fd"/>
<circle cx="755.3" cy="664.4" r="9.1" fill="#9741ca"/>
<circle cx="759.6" cy="664.4" r="9.1" fill="#ff0052"/>
<circle cx="763.9" cy="661.8" r="9.1" fill="#0088fd"/>
<circle cx="768.1" cy="664.8" r="9.1" fill="#f00099"/>
<circle cx="776.7" cy="666" r="9.1" fill="#a731bf"/>
<circle cx="805.6" cy="667.5" r="9.1" fill="#ff0052"/>
<circle cx="832.3" cy="662" r="9.1" fill="#0089fe"/>
<circle cx="812" cy="664.4" r="9.1" fill="#0075f4"/>
<circle cx="821.6" cy="664.4" r="9.1" fill="#0085fc"/>
<circle cx="831.2" cy="664.4" r="9.1" fill="#c90eab"/>
<circle cx="847.3" cy="664.4" r="9.1" fill="#ff0068"/>
<circle cx="860.1" cy="664.4" r="9.1" fill="#ad2ab9"/>
<circle cx="792.0" cy="637.4" r="9.1" fill="#ff007f"/>
<circle cx="792.0" cy="639.3" r="9.1" fill="#ff007f"/>
<circle cx="792.0" cy="641.2" r="9.1" fill="#ff007f"/>
<circle cx="792.0" cy="643.2" r="9.1" fill="#ff007f"/>
<circle cx="792.0" cy="645.1" r="9.1" fill="#ff007f"/>
<circle cx="792.0" cy="645.1" r="9.1" fill="#0072f2"/>
<circle cx="792.0" cy="647.1" r="9.1" fill="#0072f2"/>
<circle cx="792.0" cy="649.1" r="9.1" fill="#0072f2"/>
<circle cx="792.0" cy="651.1" r="9.1" fill="#0072f2"/>
<circle cx="792.0" cy="653.1" r="9.1" fill="#0072f2"/>
<circle cx="792.0" cy="655.1" r="9.1" fill="#0072f2"/>
<circle cx="792.0" cy="657.1" r="9.1" fill="#0072f2"/>
<circle cx="792.0" cy="659.1" r="9.1" fill="#0072f2"/>
<circle cx="792.0" cy="661.1" r="9.1" fill="#0072f2"/>
<circle cx="792.0" cy="663.1" r="9.1" fill="#0072f2"/>
<circle cx="792.0" cy="665.1" r="9.1" fill="#0072f2"/>
<circle cx="792.0" cy="667.1" r="9.1" fill="#0072f2"/>
<circle cx="792.0" cy="667.1" r="9.1" fill="#a731bf"/>
<circle cx="792.0" cy="669.2" r="9.1" fill="#a731bf"/>
<circle cx="792.0" cy="671.2" r="9.1" fill="#a731bf"/>
<circle cx="792.0" cy="673.3" r="9.1" fill="#a731bf"/>
<circle cx="792.0" cy="675.4" r="9.1" fill="#a731bf"/>
<circle cx="792.0" cy="677.4" r="9.1" fill="#a731bf"/>
<circle cx="792.0" cy="679.5" r="9.1" fill="#a731bf"/>
<circle cx="792.0" cy="681.5" r="9.1" fill="#a731bf"/>
<circle cx="792.0" cy="683.6" r="9.1" fill="#a731bf"/>
<circle cx="792.0" cy="685.7" r="9.1" fill="#a731bf"/>
<circle cx="792.0" cy="687.7" r="9.1" fill="#a731bf"/>
<circle cx="792.0" cy="689.8" r="9.1" fill="#a731bf"/>
<circle cx="792.0" cy="691.1" r="9.1" fill="#ff007f" clip-path="url(#c7)"/>
<circle cx="792.0" cy="695.1" r="9.1" fill="#d005a9" clip-path="url(#c7)"/>
<circle cx="791.9" cy="636.8" r="9.1" fill="#ff007f"/>
<circle cx="791.9" cy="675.3" r="9.1" fill="#a731bf"/>
<circle cx="791.9" cy="690.3" r="9.1" fill="#d005a9"/>
<circle cx="783.1" cy="661.4" r="9.1" fill="#ff007f"/>
<circle cx="797" cy="663.6" r="9.1" fill="#a731bf"/>
<circle cx="675.2" cy="744" r="9.1" fill="#008cfe"/>
<circle cx="727.3" cy="744" r="9.1" fill="#ff0052"/>
<circle cx="753.9" cy="744" r="9.1" fill="#ff0059"/>
<circle cx="771.3" cy="741.5" r="9.1" fill="#e4009f"/>
<circle cx="764.9" cy="744" r="9.1" fill="#505fe4"/>
<circle cx="776.7" cy="744" r="9.1" fill="#008cfe"/>
<circle cx="841.2" cy="744" r="9.1" fill="#ff0052"/>
<circle cx="824.8" cy="744" r="9.1" fill="#007af7"/>
<circle cx="833.4" cy="744" r="9.1" fill="#007df9"/>
<circle cx="846.2" cy="744" r="9.1" fill="#e4009f"/>
<circle cx="853.7" cy="744" r="9.1" fill="#e4009f"/>
<circle cx="866.5" cy="744" r="9.1" fill="#0089fe"/>
<circle cx="891.6" cy="744" r="9.1" fill="#ff008a"/>
<circle cx="792.0" cy="717.3" r="9.1" fill="#ff0052"/>
<circle cx="792.0" cy="719.2" r="9.1" fill="#ff0052"/>
<circle cx="792.0" cy="721.1" r="9.1" fill="#ff0052"/>
<circle cx="792.0" cy="721.1" r="9.1" fill="#ff0076"/>
<circle cx="792.0" cy="723.1" r="9.1" fill="#ff0076"/>
<circle cx="792.0" cy="725.2" r="9.1" fill="#ff0076"/>
<circle cx="792.0" cy="727.2" r="9.1" fill="#ff0076"/>
<circle cx="792.0" cy="729.3" r="9.1" fill="#ff0076"/>
<circle cx="792.0" cy="731.3" r="9.1" fill="#ff0076"/>
<circle cx="792.0" cy="733.4" r="9.1" fill="#ff0076"/>
<circle cx="792.0" cy="735.4" r="9.1" fill="#ff0076"/>
<circle cx="792.0" cy="737.5" r="9.1" fill="#ff0076"/>
<circle cx="792.0" cy="739.5" r="9.1" fill="#ff0076"/>
<circle cx="792.0" cy="741.6" r="9.1" fill="#ff0076"/>
<circle cx="792.0" cy="743.6" r="9.1" fill="#ff0076"/>
<circle cx="792.0" cy="745.6" r="9.1" fill="#ff0076"/>
<circle cx="792.0" cy="747.7" r="9.1" fill="#ff0076"/>
<circle cx="792.0" cy="749.7" r="9.1" fill="#ff0076"/>
<circle cx="792.0" cy="751.8" r="9.1" fill="#ff0076"/>
<circle cx="792.0" cy="753.8" r="9.1" fill="#ff0076"/>
<circle cx="792.0" cy="755.9" r="9.1" fill="#ff0076"/>
<circle cx="792.0" cy="757.9" r="9.1" fill="#ff0076"/>
<circle cx="792.0" cy="760.0" r="9.1" fill="#ff0076"/>
<circle cx="792.0" cy="762.0" r="9.1" fill="#ff0076"/>
<circle cx="792.0" cy="764.1" r="9.1" fill="#ff0076"/>
<circle cx="792.0" cy="766.1" r="9.1" fill="#ff0076"/>
<circle cx="792.0" cy="766.1" r="9.1" fill="#0085fc"/>
<circle cx="792.0" cy="767.6" r="9.1" fill="#0085fc"/>
<circle cx="792.0" cy="769.1" r="9.1" fill="#0085fc"/>
<circle cx="792.0" cy="769.1" r="9.1" fill="#a138c3"/>
<circle cx="792" cy="719.5" r="9.1" fill="#9a3ec8"/>
<circle cx="792" cy="767.3" r="9.1" fill="#a138c3"/>
<circle cx="804.5" cy="744" r="9.1" fill="#b51eb2"/>
<circle cx="814.1" cy="744" r="9.1" fill="#b51eb2"/>
<circle cx="724.1" cy="823.6" r="9.1" fill="#ff007f"/>
<circle cx="734.3" cy="823.6" r="9.1" fill="#ff0052"/>
<circle cx="756.4" cy="819.8" r="9.1" fill="#0088fd"/>
<circle cx="756" cy="823.6" r="9.1" fill="#ff007f"/>
<circle cx="767.4" cy="823.6" r="9.1" fill="#ff0059"/>
<circle cx="773.5" cy="823.6" r="9.1" fill="#0089fe"/>
<circle cx="804.7" cy="819.5" r="9.1" fill="#0088fd"/>
<circle cx="816.3" cy="823.6" r="9.1" fill="#894ad2"/>
<circle cx="840.9" cy="823.6" r="9.1" fill="#ea009c"/>
<circle cx="831.2" cy="823.6" r="9.1" fill="#007af7"/>
<circle cx="854.8" cy="823.6" r="9.1" fill="#0089fe"/>
<circle cx="792.0" cy="796.9" r="9.1" fill="#ff006f"/>
<circle cx="792.0" cy="798.6" r="9.1" fill="#ff006f"/>
<circle cx="792.0" cy="798.6" r="9.1" fill="#6659df"/>
<circle cx="792.0" cy="800.7" r="9.1" fill="#6659df"/>
<circle cx="792.0" cy="802.8" r="9.1" fill="#6659df"/>
<circle cx="792.0" cy="804.9" r="9.1" fill="#6659df"/>
<circle cx="792.0" cy="807.0" r="9.1" fill="#6659df"/>
<circle cx="792.0" cy="809.1" r="9.1" fill="#6659df"/>
<circle cx="792.0" cy="809.1" r="9.1" fill="#0085fc"/>
<circle cx="792.0" cy="810.9" r="9.1" fill="#0085fc"/>
<circle cx="792.0" cy="812.8" r="9.1" fill="#0085fc"/>
<circle cx="792.0" cy="814.6" r="9.1" fill="#0085fc"/>
<circle cx="792.0" cy="816.4" r="9.1" fill="#0085fc"/>
<circle cx="792.0" cy="818.3" r="9.1" fill="#0085fc"/>
<circle cx="792.0" cy="820.1" r="9.1" fill="#0085fc"/>
<circle cx="792.0" cy="820.1" r="9.1" fill="#8d47d0"/>
<circle cx="792.0" cy="822.0" r="9.1" fill="#8d47d0"/>
<circle cx="792.0" cy="823.9" r="9.1" fill="#8d47d0"/>
<circle cx="792.0" cy="825.7" r="9.1" fill="#8d47d0"/>
<circle cx="792.0" cy="827.6" r="9.1" fill="#8d47d0"/>
<circle cx="792.0" cy="829.5" r="9.1" fill="#8d47d0"/>
<circle cx="792.0" cy="831.4" r="9.1" fill="#8d47d0"/>
<circle cx="792.0" cy="833.2" r="9.1" fill="#8d47d0"/>
<circle cx="792.0" cy="835.1" r="9.1" fill="#8d47d0"/>
<circle cx="792.0" cy="835.1" r="9.1" fill="#ff007f"/>
<circle cx="792.0" cy="837.4" r="9.1" fill="#ff007f"/>
<circle cx="792.0" cy="839.6" r="9.1" fill="#ff007f"/>
<circle cx="792.0" cy="841.9" r="9.1" fill="#ff007f"/>
<circle cx="792.0" cy="844.1" r="9.1" fill="#ff007f"/>
<circle cx="792.0" cy="844.1" r="9.1" fill="#894ad2"/>
<circle cx="792.0" cy="846.3" r="9.1" fill="#894ad2"/>
<circle cx="792.0" cy="848.5" r="9.1" fill="#894ad2"/>
<circle cx="792.0" cy="861.1" r="9.1" fill="#ff007f" clip-path="url(#c9)"/>
<circle cx="792.0" cy="864.1" r="9.1" fill="#894ad2" clip-path="url(#c9)"/>
<circle cx="791.8" cy="795.5" r="9.1" fill="#6659df"/>
<circle cx="791.8" cy="818.5" r="9.1" fill="#8d47d0"/>
<circle cx="791.8" cy="842" r="9.1" fill="#894ad2"/>
<circle cx="803.4" cy="823.6" r="9.1" fill="#894ad2"/>
<circle cx="812" cy="823.6" r="9.1" fill="#894ad2"/>
<circle cx="660.5" cy="903.3" r="9.1" fill="#008cfe"/>
<circle cx="725.7" cy="903.3" r="9.1" fill="#008cfe"/>
<circle cx="758.2" cy="900.6" r="9.1" fill="#ff007f"/>
<circle cx="758.2" cy="903.3" r="9.1" fill="#0089fe"/>
<circle cx="766.9" cy="903.3" r="9.1" fill="#007df9"/>
<circle cx="777" cy="900.6" r="9.1" fill="#ff007f"/>
<circle cx="775.6" cy="903.3" r="9.1" fill="#0089fe"/>
<circle cx="832.6" cy="903.3" r="9.1" fill="#0088fd"/>
<circle cx="826.1" cy="903.3" r="9.1" fill="#ff0052"/>
<circle cx="813.9" cy="903.3" r="9.1" fill="#a138c3"/>
<circle cx="801.8" cy="903.3" r="9.1" fill="#a138c3"/>
<circle cx="841.1" cy="903.3" r="9.1" fill="#d005a9"/>
<circle cx="865.9" cy="903.3" r="9.1" fill="#ff007f"/>
<circle cx="792.0" cy="875.8" r="9.1" fill="#d005a9"/>
<circle cx="792.0" cy="877.6" r="9.1" fill="#d005a9"/>
<circle cx="792.0" cy="879.3" r="9.1" fill="#d005a9"/>
<circle cx="792.0" cy="881.1" r="9.1" fill="#d005a9"/>
<circle cx="792.0" cy="881.1" r="9.1" fill="#ff0052"/>
<circle cx="792.0" cy="883.1" r="9.1" fill="#ff0052"/>
<circle cx="792.0" cy="885.1" r="9.1" fill="#ff0052"/>
<circle cx="792.0" cy="887.1" r="9.1" fill="#ff0052"/>
<circle cx="792.0" cy="889.1" r="9.1" fill="#ff0052"/>
<circle cx="792.0" cy="889.1" r="9.1" fill="#824ed5"/>
<circle cx="792.0" cy="891.1" r="9.1" fill="#824ed5"/>
<circle cx="792.0" cy="893.1" r="9.1" fill="#824ed5"/>
<circle cx="792.0" cy="893.1" r="9.1" fill="#ff007f"/>
<circle cx="792.0" cy="895.1" r="9.1" fill="#ff007f"/>
<circle cx="792.0" cy="897.1" r="9.1" fill="#ff007f"/>
<circle cx="792.0" cy="899.0" r="9.1" fill="#ff007f"/>
<circle cx="792.0" cy="901.0" r="9.1" fill="#ff007f"/>
<circle cx="792.0" cy="903.0" r="9.1" fill="#ff007f"/>
<circle cx="792.0" cy="905.0" r="9.1" fill="#ff007f"/>
<circle cx="792.0" cy="906.9" r="9.1" fill="#ff007f"/>
<circle cx="792.0" cy="908.9" r="9.1" fill="#ff007f"/>
<circle cx="792.0" cy="910.9" r="9.1" fill="#ff007f"/>
<circle cx="792.0" cy="912.9" r="9.1" fill="#ff007f"/>
<circle cx="792.0" cy="914.9" r="9.1" fill="#ff007f"/>
<circle cx="792.0" cy="916.8" r="9.1" fill="#ff007f"/>
<circle cx="792.0" cy="918.8" r="9.1" fill="#ff007f"/>
<circle cx="792.0" cy="920.8" r="9.1" fill="#ff007f"/>
<circle cx="792.0" cy="922.8" r="9.1" fill="#ff007f"/>
<circle cx="792.0" cy="924.7" r="9.1" fill="#ff007f"/>
<circle cx="792.0" cy="926.7" r="9.1" fill="#ff007f"/>
<circle cx="792.0" cy="928.7" r="9.1" fill="#ff007f"/>
<circle cx="791.7" cy="890" r="9.1" fill="#ff007f"/>
<circle cx="791.7" cy="920.5" r="9.1" fill="#824ed5"/>
<circle cx="791.7" cy="910.7" r="9.1" fill="#ff0068"/>
<circle cx="788.7" cy="901.3" r="9.1" fill="#d005a9"/>
<circle cx="763.4" cy="983" r="9.1" fill="#ff0052"/>
<circle cx="757.8" cy="983" r="9.1" fill="#ff0052"/>
<circle cx="768.1" cy="983" r="9.1" fill="#824ed5"/>
<circle cx="774.6" cy="983" r="9.1" fill="#a138c3"/>
<circle cx="805.6" cy="981.3" r="9.1" fill="#0088fd"/>
<circle cx="816.7" cy="981.3" r="9.1" fill="#9741ca"/>
<circle cx="852.3" cy="983" r="9.1" fill="#ff0052"/>
<circle cx="805.5" cy="983" r="9.1" fill="#505fe4"/>
<circle cx="822.4" cy="983" r="9.1" fill="#0089fe"/>
<circle cx="832.6" cy="983" r="9.1" fill="#0089fe"/>
<circle cx="847.6" cy="983" r="9.1" fill="#0089fe"/>
<circle cx="865.4" cy="983" r="9.1" fill="#ff0052"/>
<circle cx="888.2" cy="983" r="9.1" fill="#008cfe"/>
<circle cx="792.0" cy="956.7" r="9.1" fill="#824ed5"/>
<circle cx="792.0" cy="958.5" r="9.1" fill="#824ed5"/>
<circle cx="792.0" cy="960.3" r="9.1" fill="#824ed5"/>
<circle cx="792.0" cy="962.1" r="9.1" fill="#824ed5"/>
<circle cx="792.0" cy="962.1" r="9.1" fill="#ff0052"/>
<circle cx="792.0" cy="964.4" r="9.1" fill="#ff0052"/>
<circle cx="792.0" cy="966.6" r="9.1" fill="#ff0052"/>
<circle cx="792.0" cy="968.9" r="9.1" fill="#ff0052"/>
<circle cx="792.0" cy="971.1" r="9.1" fill="#ff0052"/>
<circle cx="792.0" cy="971.1" r="9.1" fill="#d005a9"/>
<circle cx="792.0" cy="973.1" r="9.1" fill="#d005a9"/>
<circle cx="792.0" cy="975.1" r="9.1" fill="#d005a9"/>
<circle cx="792.0" cy="977.1" r="9.1" fill="#d005a9"/>
<circle cx="792.0" cy="979.1" r="9.1" fill="#d005a9"/>
<circle cx="792.0" cy="981.1" r="9.1" fill="#d005a9"/>
<circle cx="792.0" cy="983.1" r="9.1" fill="#d005a9"/>
<circle cx="792.0" cy="985.1" r="9.1" fill="#d005a9"/>
<circle cx="792.0" cy="987.1" r="9.1" fill="#d005a9"/>
<circle cx="792.0" cy="989.1" r="9.1" fill="#d005a9"/>
<circle cx="792.0" cy="991.1" r="9.1" fill="#d005a9"/>
<circle cx="792.0" cy="993.1" r="9.1" fill="#d005a9"/>
<circle cx="792.0" cy="995.1" r="9.1" fill="#d005a9"/>
<circle cx="792.0" cy="997.1" r="9.1" fill="#d005a9"/>
<circle cx="792.0" cy="999.1" r="9.1" fill="#d005a9"/>
<circle cx="792.0" cy="999.1" r="9.1" fill="#e4009f"/>
<circle cx="792.0" cy="1001.1" r="9.1" fill="#e4009f"/>
<circle cx="792.0" cy="1003.1" r="9.1" fill="#e4009f"/>
<circle cx="792.0" cy="1005.2" r="9.1" fill="#e4009f"/>
<circle cx="792.0" cy="1007.2" r="9.1" fill="#e4009f"/>
<circle cx="792.0" cy="1009.2" r="9.1" fill="#e4009f"/>
<circle cx="792.0" cy="1019.1" r="9.1" fill="#ff007f" clip-path="url(#c11)"/>
<circle cx="792.0" cy="1021.6" r="9.1" fill="#da00a4" clip-path="url(#c11)"/>
<circle cx="791.9" cy="961.2" r="9.1" fill="#ff0052"/>
<circle cx="791.9" cy="967.7" r="9.1" fill="#d005a9"/>
<circle cx="792.4" cy="978" r="9.1" fill="#9741ca"/>
<circle cx="784" cy="982.7" r="9.1" fill="#0089fe"/>
<circle cx="731.6" cy="1062.6" r="9.1" fill="#ff0052"/>
<circle cx="750.6" cy="1062.6" r="9.1" fill="#ff0052"/>
<circle cx="757" cy="1062.6" r="9.1" fill="#ff007f"/>
<circle cx="763.3" cy="1062.6" r="9.1" fill="#008cfe"/>
<circle cx="776" cy="1062.6" r="9.1" fill="#c90eab"/>
<circle cx="801.4" cy="1062.6" r="9.1" fill="#0088fd"/>
<circle cx="807.8" cy="1062.6" r="9.1" fill="#a731bf"/>
<circle cx="818" cy="1062.6" r="9.1" fill="#9741ca"/>
<circle cx="833.2" cy="1061.72" r="9.1" fill="#0088fd"/>
<circle cx="823" cy="1062.6" r="9.1" fill="#ff005e"/>
<circle cx="826.8" cy="1062.6" r="9.1" fill="#d005a9"/>
<circle cx="832.6" cy="1062.6" r="9.1" fill="#ad2ab9"/>
<circle cx="845.9" cy="1062.6" r="9.1" fill="#ff007f"/>
<circle cx="882.7" cy="1062.6" r="9.1" fill="#0088fd"/>
<circle cx="880.8" cy="1062.6" r="9.1" fill="#ff0052"/>
<circle cx="792.0" cy="1034.9" r="9.1" fill="#c90eab"/>
<circle cx="792.0" cy="1036.7" r="9.1" fill="#c90eab"/>
<circle cx="792.0" cy="1038.6" r="9.1" fill="#c90eab"/>
<circle cx="792.0" cy="1040.4" r="9.1" fill="#c90eab"/>
<circle cx="792.0" cy="1042.3" r="9.1" fill="#c90eab"/>
<circle cx="792.0" cy="1044.1" r="9.1" fill="#c90eab"/>
<circle cx="792.0" cy="1044.1" r="9.1" fill="#a731bf"/>
<circle cx="792.0" cy="1046.6" r="9.1" fill="#a731bf"/>
<circle cx="792.0" cy="1049.1" r="9.1" fill="#a731bf"/>
<circle cx="792.0" cy="1049.1" r="9.1" fill="#ff007f"/>
<circle cx="792.0" cy="1051.6" r="9.1" fill="#ff007f"/>
<circle cx="792.0" cy="1054.1" r="9.1" fill="#ff007f"/>
<circle cx="792.0" cy="1054.1" r="9.1" fill="#a731bf"/>
<circle cx="792.0" cy="1056.0" r="9.1" fill="#a731bf"/>
<circle cx="792.0" cy="1058.0" r="9.1" fill="#a731bf"/>
<circle cx="792.0" cy="1059.9" r="9.1" fill="#a731bf"/>
<circle cx="792.0" cy="1061.8" r="9.1" fill="#a731bf"/>
<circle cx="792.0" cy="1063.7" r="9.1" fill="#a731bf"/>
<circle cx="792.0" cy="1065.7" r="9.1" fill="#a731bf"/>
<circle cx="792.0" cy="1067.6" r="9.1" fill="#a731bf"/>
<circle cx="792.0" cy="1069.5" r="9.1" fill="#a731bf"/>
<circle cx="792.0" cy="1071.5" r="9.1" fill="#a731bf"/>
<circle cx="792.0" cy="1073.4" r="9.1" fill="#a731bf"/>
<circle cx="792.0" cy="1075.3" r="9.1" fill="#a731bf"/>
<circle cx="792.0" cy="1077.2" r="9.1" fill="#a731bf"/>
<circle cx="792.0" cy="1079.2" r="9.1" fill="#a731bf"/>
<circle cx="792.0" cy="1081.1" r="9.1" fill="#a731bf"/>
<circle cx="792.0" cy="1081.1" r="9.1" fill="#ff0076"/>
<circle cx="792.0" cy="1083.1" r="9.1" fill="#ff0076"/>
<circle cx="792.0" cy="1085.1" r="9.1" fill="#ff0076"/>
<circle cx="792.0" cy="1087.1" r="9.1" fill="#ff0076"/>
<circle cx="792.0" cy="1089.1" r="9.1" fill="#ff0076"/>
<circle cx="792.0" cy="1099.1" r="9.1" fill="#b51eb2" clip-path="url(#c12)"/>
<circle cx="791.9" cy="1081" r="9.1" fill="#ff0076"/>
<circle cx="792.5" cy="1058.8" r="9.1" fill="#ff0052"/>
<circle cx="787.5" cy="1062.6" r="9.1" fill="#9145ce"/>
<circle cx="724.8" cy="1142.2" r="9.1" fill="#008cfe"/>
<circle cx="745.3" cy="1142.2" r="9.1" fill="#d005a9"/>
<circle cx="757.3" cy="1142.2" r="9.1" fill="#9145ce"/>
<circle cx="770.5" cy="1142.2" r="9.1" fill="#ff0068"/>
<circle cx="782" cy="1137.5" r="9.1" fill="#ff0052"/>
<circle cx="777.8" cy="1142.2" r="9.1" fill="#a731bf"/>
<circle cx="812.7" cy="1142.2" r="9.1" fill="#ff0052"/>
<circle cx="804.2" cy="1142.2" r="9.1" fill="#9741ca"/>
<circle cx="821" cy="1142.2" r="9.1" fill="#9145ce"/>
<circle cx="835.9" cy="1142.2" r="9.1" fill="#0085fc"/>
<circle cx="828.3" cy="1142.2" r="9.1" fill="#894ad2"/>
<circle cx="841.5" cy="1142.2" r="9.1" fill="#ff0052"/>
<circle cx="872.2" cy="1142.2" r="9.1" fill="#ff007f"/>
<circle cx="792.0" cy="1114.7" r="9.1" fill="#ff0068"/>
<circle cx="792.0" cy="1116.6" r="9.1" fill="#ff0068"/>
<circle cx="792.0" cy="1116.6" r="9.1" fill="#d005a9"/>
<circle cx="792.0" cy="1118.7" r="9.1" fill="#d005a9"/>
<circle cx="792.0" cy="1120.8" r="9.1" fill="#d005a9"/>
<circle cx="792.0" cy="1122.9" r="9.1" fill="#d005a9"/>
<circle cx="792.0" cy="1125.0" r="9.1" fill="#d005a9"/>
<circle cx="792.0" cy="1127.1" r="9.1" fill="#d005a9"/>
<circle cx="792.0" cy="1127.1" r="9.1" fill="#0089fe"/>
<circle cx="792.0" cy="1129.0" r="9.1" fill="#0089fe"/>
<circle cx="792.0" cy="1131.0" r="9.1" fill="#0089fe"/>
<circle cx="792.0" cy="1132.9" r="9.1" fill="#0089fe"/>
<circle cx="792.0" cy="1134.8" r="9.1" fill="#0089fe"/>
<circle cx="792.0" cy="1136.7" r="9.1" fill="#0089fe"/>
<circle cx="792.0" cy="1138.7" r="9.1" fill="#0089fe"/>
<circle cx="792.0" cy="1140.6" r="9.1" fill="#0089fe"/>
<circle cx="792.0" cy="1142.5" r="9.1" fill="#0089fe"/>
<circle cx="792.0" cy="1144.5" r="9.1" fill="#0089fe"/>
<circle cx="792.0" cy="1146.4" r="9.1" fill="#0089fe"/>
<circle cx="792.0" cy="1148.3" r="9.1" fill="#0089fe"/>
<circle cx="792.0" cy="1150.2" r="9.1" fill="#0089fe"/>
<circle cx="792.0" cy="1152.2" r="9.1" fill="#0089fe"/>
<circle cx="792.0" cy="1154.1" r="9.1" fill="#0089fe"/>
<circle cx="792.0" cy="1154.1" r="9.1" fill="#da00a4"/>
<circle cx="792.0" cy="1156.0" r="9.1" fill="#da00a4"/>
<circle cx="792.0" cy="1157.8" r="9.1" fill="#da00a4"/>
<circle cx="792.0" cy="1159.7" r="9.1" fill="#da00a4"/>
<circle cx="792.0" cy="1161.6" r="9.1" fill="#da00a4"/>
<circle cx="792.0" cy="1163.5" r="9.1" fill="#da00a4"/>
<circle cx="792.0" cy="1165.3" r="9.1" fill="#da00a4"/>
<circle cx="792.0" cy="1167.2" r="9.1" fill="#da00a4"/>
<circle cx="791.8" cy="1114.7" r="9.1" fill="#d005a9"/>
<circle cx="795" cy="1135" r="9.1" fill="#0089fe"/>
<circle cx="786.2" cy="1142.2" r="9.1" fill="#ad2ab9"/>
<circle cx="792.2" cy="1147.2" r="9.1" fill="#c90eab"/>
<circle cx="771.8" cy="1221.9" r="9.1" fill="#0069ec"/>
<circle cx="776.5" cy="1221.9" r="9.1" fill="#ff0052"/>
<circle cx="784" cy="1220.5" r="9.1" fill="#0085fc"/>
<circle cx="803.6" cy="1221.9" r="9.1" fill="#da00a4"/>
<circle cx="812" cy="1220.58" r="9.1" fill="#894ad2"/>
<circle cx="815.8" cy="1221.9" r="9.1" fill="#ea009c"/>
<circle cx="832.6" cy="1221.9" r="9.1" fill="#ff0052"/>
<circle cx="824.7" cy="1221.9" r="9.1" fill="#008cfe"/>
<circle cx="846.2" cy="1221.9" r="9.1" fill="#894ad2"/>
<circle cx="860.3" cy="1221.9" r="9.1" fill="#ff0076"/>
<circle cx="792.0" cy="1193.4" r="9.1" fill="#d005a9"/>
<circle cx="792.0" cy="1195.3" r="9.1" fill="#d005a9"/>
<circle cx="792.0" cy="1197.2" r="9.1" fill="#d005a9"/>
<circle cx="792.0" cy="1199.1" r="9.1" fill="#d005a9"/>
<circle cx="792.0" cy="1199.1" r="9.1" fill="#ff0076"/>
<circle cx="792.0" cy="1201.2" r="9.1" fill="#ff0076"/>
<circle cx="792.0" cy="1203.3" r="9.1" fill="#ff0076"/>
<circle cx="792.0" cy="1205.5" r="9.1" fill="#ff0076"/>
<circle cx="792.0" cy="1207.6" r="9.1" fill="#ff0076"/>
<circle cx="792.0" cy="1209.7" r="9.1" fill="#ff0076"/>
<circle cx="792.0" cy="1211.8" r="9.1" fill="#ff0076"/>
<circle cx="792.0" cy="1214.0" r="9.1" fill="#ff0076"/>
<circle cx="792.0" cy="1216.1" r="9.1" fill="#ff0076"/>
<circle cx="792.0" cy="1216.1" r="9.1" fill="#a731bf"/>
<circle cx="792.0" cy="1217.8" r="9.1" fill="#a731bf"/>
<circle cx="792.0" cy="1219.6" r="9.1" fill="#a731bf"/>
<circle cx="792.0" cy="1221.3" r="9.1" fill="#a731bf"/>
<circle cx="792.0" cy="1223.1" r="9.1" fill="#a731bf"/>
<circle cx="792.0" cy="1223.1" r="9.1" fill="#da00a4"/>
<circle cx="792.0" cy="1225.1" r="9.1" fill="#da00a4"/>
<circle cx="792.0" cy="1227.2" r="9.1" fill="#da00a4"/>
<circle cx="792.0" cy="1229.2" r="9.1" fill="#da00a4"/>
<circle cx="792.0" cy="1231.3" r="9.1" fill="#da00a4"/>
<circle cx="792.0" cy="1233.3" r="9.1" fill="#da00a4"/>
<circle cx="792.0" cy="1235.4" r="9.1" fill="#da00a4"/>
<circle cx="792.0" cy="1237.5" r="9.1" fill="#da00a4"/>
<circle cx="792.0" cy="1239.5" r="9.1" fill="#da00a4"/>
<circle cx="792.0" cy="1241.5" r="9.1" fill="#da00a4"/>
<circle cx="792.0" cy="1243.6" r="9.1" fill="#da00a4"/>
<circle cx="792.0" cy="1245.7" r="9.1" fill="#da00a4"/>
<circle cx="792.0" cy="1247.7" r="9.1" fill="#da00a4"/>
<circle cx="791.9" cy="1198.8" r="9.1" fill="#ff0076"/>
<circle cx="790.5" cy="1220.3" r="9.1" fill="#ff007f"/>
<circle cx="748.5" cy="1301.5" r="9.1" fill="#0089fe"/>
<circle cx="766.1" cy="1301.5" r="9.1" fill="#ff007f"/>
<circle cx="775.1" cy="1301.5" r="9.1" fill="#0089fe"/>
<circle cx="779.1" cy="1301.5" r="9.1" fill="#ff0052"/>
<circle cx="819.2" cy="1301.5" r="9.1" fill="#0085fc"/>
<circle cx="810.2" cy="1301.5" r="9.1" fill="#894ad2"/>
<circle cx="826.3" cy="1301.5" r="9.1" fill="#ff007f"/>
<circle cx="833.3" cy="1301.5" r="9.1" fill="#0089fe"/>
<circle cx="838.3" cy="1301.5" r="9.1" fill="#ff007f"/>
<circle cx="844.8" cy="1301.5" r="9.1" fill="#0089fe"/>
<circle cx="792.0" cy="1273.8" r="9.1" fill="#6659df"/>
<circle cx="792.0" cy="1275.8" r="9.1" fill="#6659df"/>
<circle cx="792.0" cy="1277.9" r="9.1" fill="#6659df"/>
<circle cx="792.0" cy="1279.9" r="9.1" fill="#6659df"/>
<circle cx="792.0" cy="1282.0" r="9.1" fill="#6659df"/>
<circle cx="792.0" cy="1284.0" r="9.1" fill="#6659df"/>
<circle cx="792.0" cy="1286.1" r="9.1" fill="#6659df"/>
<circle cx="792.0" cy="1288.1" r="9.1" fill="#6659df"/>
<circle cx="792.0" cy="1288.1" r="9.1" fill="#0085fc"/>
<circle cx="792.0" cy="1290.1" r="9.1" fill="#0085fc"/>
<circle cx="792.0" cy="1290.1" r="9.1" fill="#ff0068"/>
<circle cx="792.0" cy="1292.2" r="9.1" fill="#ff0068"/>
<circle cx="792.0" cy="1294.2" r="9.1" fill="#ff0068"/>
<circle cx="792.0" cy="1296.3" r="9.1" fill="#ff0068"/>
<circle cx="792.0" cy="1298.3" r="9.1" fill="#ff0068"/>
<circle cx="792.0" cy="1300.4" r="9.1" fill="#ff0068"/>
<circle cx="792.0" cy="1302.5" r="9.1" fill="#ff0068"/>
<circle cx="792.0" cy="1304.5" r="9.1" fill="#ff0068"/>
<circle cx="792.0" cy="1306.6" r="9.1" fill="#ff0068"/>
<circle cx="792.0" cy="1308.7" r="9.1" fill="#ff0068"/>
<circle cx="792.0" cy="1310.7" r="9.1" fill="#ff0068"/>
<circle cx="792.0" cy="1312.8" r="9.1" fill="#ff0068"/>
<circle cx="792.0" cy="1314.8" r="9.1" fill="#ff0068"/>
<circle cx="792.0" cy="1316.9" r="9.1" fill="#ff0068"/>
<circle cx="792.0" cy="1319.0" r="9.1" fill="#ff0068"/>
<circle cx="792.0" cy="1321.0" r="9.1" fill="#ff0068"/>
<circle cx="792.0" cy="1323.1" r="9.1" fill="#ff0068"/>
<circle cx="792.0" cy="1323.1" r="9.1" fill="#a138c3"/>
<circle cx="792.0" cy="1325.2" r="9.1" fill="#a138c3"/>
<circle cx="792.0" cy="1327.2" r="9.1" fill="#a138c3"/>
<circle cx="792.0" cy="1335.1" r="9.1" fill="#894ad2" clip-path="url(#c15)"/>
<circle cx="791.8" cy="1287.3" r="9.1" fill="#ff0068"/>
<circle cx="787" cy="1301" r="9.1" fill="#007af7"/>
<circle cx="797" cy="1301" r="9.1" fill="#007af7"/>
<circle cx="791.8" cy="1319.4" r="9.1" fill="#a138c3"/>
<circle cx="810.2" cy="1301.5" r="9.1" fill="#894ad2"/>
<circle cx="769.1" cy="1381.2" r="9.1" fill="#ff0052"/>
<circle cx="773.5" cy="1381.2" r="9.1" fill="#ff0052"/>
<circle cx="783.1" cy="1380" r="9.1" fill="#ff0052"/>
<circle cx="778.1" cy="1381.2" r="9.1" fill="#824ed5"/>
<circle cx="810.2" cy="1381.2" r="9.1" fill="#0089fe"/>
<circle cx="805.2" cy="1381.2" r="9.1" fill="#007af7"/>
<circle cx="825.3" cy="1381.2" r="9.1" fill="#a731bf"/>
<circle cx="820.2" cy="1381.2" r="9.1" fill="#da00a4"/>
<circle cx="837.3" cy="1381.2" r="9.1" fill="#9741ca"/>
<circle cx="792.0" cy="1353.3" r="9.1" fill="#ff0052"/>
<circle cx="792.0" cy="1355.6" r="9.1" fill="#ff0052"/>
<circle cx="792.0" cy="1357.8" r="9.1" fill="#ff0052"/>
<circle cx="792.0" cy="1360.1" r="9.1" fill="#ff0052"/>
<circle cx="792.0" cy="1360.1" r="9.1" fill="#ff007f"/>
<circle cx="792.0" cy="1362.1" r="9.1" fill="#ff007f"/>
<circle cx="792.0" cy="1364.1" r="9.1" fill="#ff007f"/>
<circle cx="792.0" cy="1366.1" r="9.1" fill="#ff007f"/>
<circle cx="792.0" cy="1366.1" r="9.1" fill="#ea009c"/>
<circle cx="792.0" cy="1368.1" r="9.1" fill="#ea009c"/>
<circle cx="792.0" cy="1370.1" r="9.1" fill="#ea009c"/>
<circle cx="792.0" cy="1372.1" r="9.1" fill="#ea009c"/>
<circle cx="792.0" cy="1374.1" r="9.1" fill="#ea009c"/>
<circle cx="792.0" cy="1376.1" r="9.1" fill="#ea009c"/>
<circle cx="792.0" cy="1378.1" r="9.1" fill="#ea009c"/>
<circle cx="792.0" cy="1380.1" r="9.1" fill="#ea009c"/>
<circle cx="792.0" cy="1382.1" r="9.1" fill="#ea009c"/>
<circle cx="792.0" cy="1384.1" r="9.1" fill="#ea009c"/>
<circle cx="792.0" cy="1386.1" r="9.1" fill="#ea009c"/>
<circle cx="792.0" cy="1388.1" r="9.1" fill="#ea009c"/>
<circle cx="792.0" cy="1390.1" r="9.1" fill="#ea009c"/>
<circle cx="792.0" cy="1392.1" r="9.1" fill="#ea009c"/>
<circle cx="792.0" cy="1394.1" r="9.1" fill="#ea009c"/>
<circle cx="792.0" cy="1396.1" r="9.1" fill="#ea009c"/>
<circle cx="792.0" cy="1398.1" r="9.1" fill="#ea009c"/>
<circle cx="792.0" cy="1398.1" r="9.1" fill="#8d47d0"/>
<circle cx="792.0" cy="1400.2" r="9.1" fill="#8d47d0"/>
<circle cx="792.0" cy="1402.3" r="9.1" fill="#8d47d0"/>
<circle cx="792.0" cy="1404.4" r="9.1" fill="#8d47d0"/>
<circle cx="792.0" cy="1406.5" r="9.1" fill="#8d47d0"/>
<circle cx="792.0" cy="1407.1" r="9.1" fill="#a731bf" clip-path="url(#c16)"/>
<circle cx="792.0" cy="1410.1" r="9.1" fill="#007df9" clip-path="url(#c16)"/>
<circle cx="792.0" cy="1421.6" r="9.1" fill="#a731bf" clip-path="url(#c16)"/>
<circle cx="791.9" cy="1364" r="9.1" fill="#ea009c"/>
<circle cx="791.7" cy="1381.6" r="9.1" fill="#505fe4"/>
<circle cx="746.2" cy="1460.8225" r="9.1" fill="#0089fe"/>
<circle cx="756" cy="1460.8225" r="9.1" fill="#da00a4"/>
<circle cx="766.8" cy="1460.8225" r="9.1" fill="#0089fe"/>
<circle cx="773.3" cy="1460.8225" r="9.1" fill="#ff0052"/>
<circle cx="779" cy="1460.8225" r="9.1" fill="#ff005e"/>
<circle cx="785.5" cy="1460.8" r="9.1" fill="#c90eab"/>
<circle cx="803.3" cy="1460.8225" r="9.1" fill="#a731bf"/>
<circle cx="812.2" cy="1460.8225" r="9.1" fill="#ea009c"/>
<circle cx="830.4" cy="1460.8225" r="9.1" fill="#8d47d0"/>
<circle cx="792.0" cy="1432.4" r="9.1" fill="#0089fe"/>
<circle cx="792.0" cy="1434.8" r="9.1" fill="#0089fe"/>
<circle cx="792.0" cy="1437.1" r="9.1" fill="#0089fe"/>
<circle cx="792.0" cy="1437.1" r="9.1" fill="#007df9"/>
<circle cx="792.0" cy="1439.3" r="9.1" fill="#007df9"/>
<circle cx="792.0" cy="1441.6" r="9.1" fill="#007df9"/>
<circle cx="792.0" cy="1443.8" r="9.1" fill="#007df9"/>
<circle cx="792.0" cy="1446.1" r="9.1" fill="#007df9"/>
<circle cx="792.0" cy="1446.1" r="9.1" fill="#d005a9"/>
<circle cx="792.0" cy="1448.2" r="9.1" fill="#d005a9"/>
<circle cx="792.0" cy="1450.2" r="9.1" fill="#d005a9"/>
<circle cx="792.0" cy="1452.3" r="9.1" fill="#d005a9"/>
<circle cx="792.0" cy="1454.3" r="9.1" fill="#d005a9"/>
<circle cx="792.0" cy="1456.4" r="9.1" fill="#d005a9"/>
<circle cx="792.0" cy="1458.5" r="9.1" fill="#d005a9"/>
<circle cx="792.0" cy="1460.5" r="9.1" fill="#d005a9"/>
<circle cx="792.0" cy="1462.6" r="9.1" fill="#d005a9"/>
<circle cx="792.0" cy="1464.7" r="9.1" fill="#d005a9"/>
<circle cx="792.0" cy="1466.7" r="9.1" fill="#d005a9"/>
<circle cx="792.0" cy="1468.8" r="9.1" fill="#d005a9"/>
<circle cx="792.0" cy="1470.8" r="9.1" fill="#d005a9"/>
<circle cx="792.0" cy="1472.9" r="9.1" fill="#d005a9"/>
<circle cx="792.0" cy="1475.0" r="9.1" fill="#d005a9"/>
<circle cx="792.0" cy="1477.0" r="9.1" fill="#d005a9"/>
<circle cx="792.0" cy="1479.1" r="9.1" fill="#d005a9"/>
<circle cx="792.0" cy="1479.1" r="9.1" fill="#c90eab"/>
<circle cx="792.0" cy="1481.6" r="9.1" fill="#c90eab"/>
<circle cx="792.0" cy="1484.1" r="9.1" fill="#c90eab"/>
<circle cx="792.0" cy="1484.1" r="9.1" fill="#8d47d0"/>
<circle cx="792.0" cy="1486.7" r="9.1" fill="#8d47d0"/>
<circle cx="792.0" cy="1498.1" r="9.1" fill="#007df9" clip-path="url(#c17)"/>
<circle cx="791.9" cy="1480.8" r="9.1" fill="#8d47d0"/>
<circle cx="792" cy="1453.7" r="9.1" fill="#ff008a"/>
<circle cx="795.8" cy="1460.2" r="9.1" fill="#ea009c"/>
<circle cx="765.5" cy="1540.5" r="9.1" fill="#a731bf"/>
<circle cx="767.7" cy="1540.5" r="9.1" fill="#ff0052"/>
<circle cx="775.3" cy="1540.5" r="9.1" fill="#ff007f"/>
<circle cx="778.5" cy="1537.2" r="9.1" fill="#ff0052"/>
<circle cx="781.7" cy="1540.5" r="9.1" fill="#3b63e7"/>
<circle cx="798.6" cy="1540.5" r="9.1" fill="#6659df"/>
<circle cx="825" cy="1540.5" r="9.1" fill="#0088fd"/>
<circle cx="819.4" cy="1540.5" r="9.1" fill="#ff008a"/>
<circle cx="804.2" cy="1540.5" r="9.1" fill="#d005a9"/>
<circle cx="811.8" cy="1540.5" r="9.1" fill="#824ed5"/>
<circle cx="836.3" cy="1540.5" r="9.1" fill="#ff007f"/>
<circle cx="792.0" cy="1512.7" r="9.1" fill="#ff0052"/>
<circle cx="792.0" cy="1514.9" r="9.1" fill="#ff0052"/>
<circle cx="792.0" cy="1517.1" r="9.1" fill="#ff0052"/>
<circle cx="792.0" cy="1517.1" r="9.1" fill="#ff008a"/>
<circle cx="792.0" cy="1519.1" r="9.1" fill="#ff008a"/>
<circle cx="792.0" cy="1521.1" r="9.1" fill="#ff008a"/>
<circle cx="792.0" cy="1521.1" r="9.1" fill="#ff007f"/>
<circle cx="792.0" cy="1523.1" r="9.1" fill="#ff007f"/>
<circle cx="792.0" cy="1525.1" r="9.1" fill="#ff007f"/>
<circle cx="792.0" cy="1527.1" r="9.1" fill="#ff007f"/>
<circle cx="792.0" cy="1529.1" r="9.1" fill="#ff007f"/>
<circle cx="792.0" cy="1531.1" r="9.1" fill="#ff007f"/>
<circle cx="792.0" cy="1533.1" r="9.1" fill="#ff007f"/>
<circle cx="792.0" cy="1535.1" r="9.1" fill="#ff007f"/>
<circle cx="792.0" cy="1537.1" r="9.1" fill="#ff007f"/>
<circle cx="792.0" cy="1539.1" r="9.1" fill="#ff007f"/>
<circle cx="792.0" cy="1539.1" r="9.1" fill="#d005a9"/>
<circle cx="792.0" cy="1541.0" r="9.1" fill="#d005a9"/>
<circle cx="792.0" cy="1542.8" r="9.1" fill="#d005a9"/>
<circle cx="792.0" cy="1544.7" r="9.1" fill="#d005a9"/>
<circle cx="792.0" cy="1546.6" r="9.1" fill="#d005a9"/>
<circle cx="792.0" cy="1548.5" r="9.1" fill="#d005a9"/>
<circle cx="792.0" cy="1550.3" r="9.1" fill="#d005a9"/>
<circle cx="792.0" cy="1552.2" r="9.1" fill="#d005a9"/>
<circle cx="792.0" cy="1554.1" r="9.1" fill="#d005a9"/>
<circle cx="792.0" cy="1554.1" r="9.1" fill="#ff0052"/>
<circle cx="792.0" cy="1556.1" r="9.1" fill="#ff0052"/>
<circle cx="792.0" cy="1558.2" r="9.1" fill="#ff0052"/>
<circle cx="792.0" cy="1560.2" r="9.1" fill="#ff0052"/>
<circle cx="792.0" cy="1562.2" r="9.1" fill="#ff0052"/>
<circle cx="792.0" cy="1564.3" r="9.1" fill="#ff0052"/>
<circle cx="792.0" cy="1566.3" r="9.1" fill="#ff0052"/>
<circle cx="792.0" cy="1569.1" r="9.1" fill="#824ed5" clip-path="url(#c18)"/>
<circle cx="792.0" cy="1578.1" r="9.1" fill="#ea009c" clip-path="url(#c18)"/>
<circle cx="792.0" cy="1581.6" r="9.1" fill="#0089fe" clip-path="url(#c18)"/>
<circle cx="791.9" cy="1518.4" r="9.1" fill="#008cfe"/>
<circle cx="791.9" cy="1562.6" r="9.1" fill="#824ed5"/>
<circle cx="791.9" cy="1549.7" r="9.1" fill="#ff0052"/>
<circle cx="788.9" cy="1539.3" r="9.1" fill="#d005a9"/>
<text x="129" y="126.4" text-anchor="end" class="yl">F8</text>
<text x="129" y="206.0" text-anchor="end" class="yl">P4</text>
<text x="129" y="285.7" text-anchor="end" class="yl">Fp2</text>
<text x="129" y="365.4" text-anchor="end" class="yl">C4</text>
<text x="129" y="445.0" text-anchor="end" class="yl">Fp1</text>
<text x="129" y="524.6" text-anchor="end" class="yl">T7</text>
<text x="129" y="604.3" text-anchor="end" class="yl">F4</text>
<text x="129" y="684.0" text-anchor="end" class="yl">P7</text>
<text x="129" y="763.6" text-anchor="end" class="yl">F3</text>
<text x="129" y="843.2" text-anchor="end" class="yl">O2</text>
<text x="129" y="922.9" text-anchor="end" class="yl">F7</text>
<text x="129" y="1002.6" text-anchor="end" class="yl">C3</text>
<text x="129" y="1082.2" text-anchor="end" class="yl">Fz</text>
<text x="129" y="1161.8" text-anchor="end" class="yl">P3</text>
<text x="129" y="1241.5" text-anchor="end" class="yl">T8</text>
<text x="129" y="1321.1" text-anchor="end" class="yl">O1</text>
<text x="129" y="1400.8" text-anchor="end" class="yl">P8</text>
<text x="129" y="1480.5" text-anchor="end" class="yl">Cz</text>
<text x="129" y="1560.1" text-anchor="end" class="yl">Pz</text>
<text x="508.6" y="1696.8" text-anchor="middle" class="xt">−20</text>
<text x="792.3" y="1696.8" text-anchor="middle" class="xt">0</text>
<text x="1073.6" y="1696.8" text-anchor="middle" class="xt">20</text>
<text x="736" y="1766.5" text-anchor="middle" class="xl">SHAP value (impact on model output)</text>
<rect x="1302" y="27" width="20" height="1592.6" fill="url(#cb)"/>
<text x="1337.8" y="45" class="cbt">High</text>
<text x="1337.8" y="1638" class="cbt">Low</text>
<text transform="translate(1469,822.5) rotate(-90)" text-anchor="middle" class="cbl">Feature value</text>
</svg></body></html>
